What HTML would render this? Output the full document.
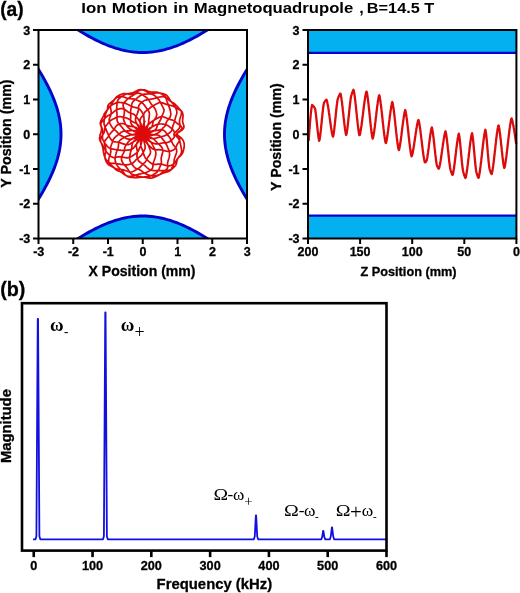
<!DOCTYPE html>
<html><head><meta charset="utf-8"><title>Ion Motion in Magnetoquadrupole</title>
<style>html,body{margin:0;padding:0;background:#fff}svg{display:block}text{fill:#000}</style>
</head><body>
<svg width="520" height="593" viewBox="0 0 520 593">
<rect width="520" height="593" fill="#fff"/>
<clipPath id="c1"><rect x="38.5" y="30.0" width="208.5" height="208.5"/></clipPath>
<g clip-path="url(#c1)">
<path d="M279.12,243.42 L275.21,238.49 L271.48,233.70 L267.91,229.05 L264.52,224.52 L261.29,220.11 L258.22,215.82 L255.31,211.64 L252.55,207.57 L249.93,203.59 L247.46,199.71 L245.13,195.91 L242.94,192.20 L240.88,188.56 L238.96,185.00 L237.16,181.50 L235.49,178.07 L233.94,174.70 L232.52,171.38 L231.22,168.12 L230.04,164.89 L228.97,161.71 L228.02,158.57 L227.19,155.46 L226.47,152.38 L225.86,149.32 L225.36,146.28 L224.98,143.26 L224.70,140.25 L224.54,137.25 L224.48,134.25 L224.54,131.25 L224.70,128.25 L224.98,125.24 L225.36,122.22 L225.86,119.18 L226.47,116.12 L227.19,113.04 L228.02,109.93 L228.97,106.79 L230.04,103.61 L231.22,100.38 L232.52,97.12 L233.94,93.80 L235.49,90.43 L237.16,87.00 L238.96,83.50 L240.88,79.94 L242.94,76.30 L245.13,72.59 L247.46,68.79 L249.93,64.91 L252.55,60.93 L255.31,56.86 L258.22,52.68 L261.29,48.39 L264.52,43.98 L267.91,39.45 L271.48,34.80 L275.21,30.01 L279.12,25.08 L316.50,25.08 L316.50,243.42 Z" fill="#04b0ef"/>
<path d="M279.12,243.42 L275.21,238.49 L271.48,233.70 L267.91,229.05 L264.52,224.52 L261.29,220.11 L258.22,215.82 L255.31,211.64 L252.55,207.57 L249.93,203.59 L247.46,199.71 L245.13,195.91 L242.94,192.20 L240.88,188.56 L238.96,185.00 L237.16,181.50 L235.49,178.07 L233.94,174.70 L232.52,171.38 L231.22,168.12 L230.04,164.89 L228.97,161.71 L228.02,158.57 L227.19,155.46 L226.47,152.38 L225.86,149.32 L225.36,146.28 L224.98,143.26 L224.70,140.25 L224.54,137.25 L224.48,134.25 L224.54,131.25 L224.70,128.25 L224.98,125.24 L225.36,122.22 L225.86,119.18 L226.47,116.12 L227.19,113.04 L228.02,109.93 L228.97,106.79 L230.04,103.61 L231.22,100.38 L232.52,97.12 L233.94,93.80 L235.49,90.43 L237.16,87.00 L238.96,83.50 L240.88,79.94 L242.94,76.30 L245.13,72.59 L247.46,68.79 L249.93,64.91 L252.55,60.93 L255.31,56.86 L258.22,52.68 L261.29,48.39 L264.52,43.98 L267.91,39.45 L271.48,34.80 L275.21,30.01 L279.12,25.08" fill="none" stroke="#0404c8" stroke-width="2.9"/>
<path d="M6.38,243.42 L10.29,238.49 L14.02,233.70 L17.59,229.05 L20.98,224.52 L24.21,220.11 L27.28,215.82 L30.19,211.64 L32.95,207.57 L35.57,203.59 L38.04,199.71 L40.37,195.91 L42.56,192.20 L44.62,188.56 L46.54,185.00 L48.34,181.50 L50.01,178.07 L51.56,174.70 L52.98,171.38 L54.28,168.12 L55.46,164.89 L56.53,161.71 L57.48,158.57 L58.31,155.46 L59.03,152.38 L59.64,149.32 L60.14,146.28 L60.52,143.26 L60.80,140.25 L60.96,137.25 L61.02,134.25 L60.96,131.25 L60.80,128.25 L60.52,125.24 L60.14,122.22 L59.64,119.18 L59.03,116.12 L58.31,113.04 L57.48,109.93 L56.53,106.79 L55.46,103.61 L54.28,100.38 L52.98,97.12 L51.56,93.80 L50.01,90.43 L48.34,87.00 L46.54,83.50 L44.62,79.94 L42.56,76.30 L40.37,72.59 L38.04,68.79 L35.57,64.91 L32.95,60.93 L30.19,56.86 L27.28,52.68 L24.21,48.39 L20.98,43.98 L17.59,39.45 L14.02,34.80 L10.29,30.01 L6.38,25.08 L-31.00,25.08 L-31.00,243.42 Z" fill="#04b0ef"/>
<path d="M6.38,243.42 L10.29,238.49 L14.02,233.70 L17.59,229.05 L20.98,224.52 L24.21,220.11 L27.28,215.82 L30.19,211.64 L32.95,207.57 L35.57,203.59 L38.04,199.71 L40.37,195.91 L42.56,192.20 L44.62,188.56 L46.54,185.00 L48.34,181.50 L50.01,178.07 L51.56,174.70 L52.98,171.38 L54.28,168.12 L55.46,164.89 L56.53,161.71 L57.48,158.57 L58.31,155.46 L59.03,152.38 L59.64,149.32 L60.14,146.28 L60.52,143.26 L60.80,140.25 L60.96,137.25 L61.02,134.25 L60.96,131.25 L60.80,128.25 L60.52,125.24 L60.14,122.22 L59.64,119.18 L59.03,116.12 L58.31,113.04 L57.48,109.93 L56.53,106.79 L55.46,103.61 L54.28,100.38 L52.98,97.12 L51.56,93.80 L50.01,90.43 L48.34,87.00 L46.54,83.50 L44.62,79.94 L42.56,76.30 L40.37,72.59 L38.04,68.79 L35.57,64.91 L32.95,60.93 L30.19,56.86 L27.28,52.68 L24.21,48.39 L20.98,43.98 L17.59,39.45 L14.02,34.80 L10.29,30.01 L6.38,25.08" fill="none" stroke="#0404c8" stroke-width="2.9"/>
<path d="M33.58,-2.12 L38.51,1.79 L43.30,5.52 L47.95,9.09 L52.48,12.48 L56.89,15.71 L61.18,18.78 L65.36,21.69 L69.43,24.45 L73.41,27.07 L77.29,29.54 L81.09,31.87 L84.80,34.06 L88.44,36.12 L92.00,38.04 L95.50,39.84 L98.93,41.51 L102.30,43.06 L105.62,44.48 L108.88,45.78 L112.11,46.96 L115.29,48.03 L118.43,48.98 L121.54,49.81 L124.62,50.53 L127.68,51.14 L130.72,51.64 L133.74,52.02 L136.75,52.30 L139.75,52.46 L142.75,52.52 L145.75,52.46 L148.75,52.30 L151.76,52.02 L154.78,51.64 L157.82,51.14 L160.88,50.53 L163.96,49.81 L167.07,48.98 L170.21,48.03 L173.39,46.96 L176.62,45.78 L179.88,44.48 L183.20,43.06 L186.57,41.51 L190.00,39.84 L193.50,38.04 L197.06,36.12 L200.70,34.06 L204.41,31.87 L208.21,29.54 L212.09,27.07 L216.07,24.45 L220.14,21.69 L224.32,18.78 L228.61,15.71 L233.02,12.48 L237.55,9.09 L242.20,5.52 L246.99,1.79 L251.92,-2.12 L251.92,-39.50 L33.58,-39.50 Z" fill="#04b0ef"/>
<path d="M33.58,-2.12 L38.51,1.79 L43.30,5.52 L47.95,9.09 L52.48,12.48 L56.89,15.71 L61.18,18.78 L65.36,21.69 L69.43,24.45 L73.41,27.07 L77.29,29.54 L81.09,31.87 L84.80,34.06 L88.44,36.12 L92.00,38.04 L95.50,39.84 L98.93,41.51 L102.30,43.06 L105.62,44.48 L108.88,45.78 L112.11,46.96 L115.29,48.03 L118.43,48.98 L121.54,49.81 L124.62,50.53 L127.68,51.14 L130.72,51.64 L133.74,52.02 L136.75,52.30 L139.75,52.46 L142.75,52.52 L145.75,52.46 L148.75,52.30 L151.76,52.02 L154.78,51.64 L157.82,51.14 L160.88,50.53 L163.96,49.81 L167.07,48.98 L170.21,48.03 L173.39,46.96 L176.62,45.78 L179.88,44.48 L183.20,43.06 L186.57,41.51 L190.00,39.84 L193.50,38.04 L197.06,36.12 L200.70,34.06 L204.41,31.87 L208.21,29.54 L212.09,27.07 L216.07,24.45 L220.14,21.69 L224.32,18.78 L228.61,15.71 L233.02,12.48 L237.55,9.09 L242.20,5.52 L246.99,1.79 L251.92,-2.12" fill="none" stroke="#0404c8" stroke-width="2.9"/>
<path d="M33.58,270.62 L38.51,266.71 L43.30,262.98 L47.95,259.41 L52.48,256.02 L56.89,252.79 L61.18,249.72 L65.36,246.81 L69.43,244.05 L73.41,241.43 L77.29,238.96 L81.09,236.63 L84.80,234.44 L88.44,232.38 L92.00,230.46 L95.50,228.66 L98.93,226.99 L102.30,225.44 L105.62,224.02 L108.88,222.72 L112.11,221.54 L115.29,220.47 L118.43,219.52 L121.54,218.69 L124.62,217.97 L127.68,217.36 L130.72,216.86 L133.74,216.48 L136.75,216.20 L139.75,216.04 L142.75,215.98 L145.75,216.04 L148.75,216.20 L151.76,216.48 L154.78,216.86 L157.82,217.36 L160.88,217.97 L163.96,218.69 L167.07,219.52 L170.21,220.47 L173.39,221.54 L176.62,222.72 L179.88,224.02 L183.20,225.44 L186.57,226.99 L190.00,228.66 L193.50,230.46 L197.06,232.38 L200.70,234.44 L204.41,236.63 L208.21,238.96 L212.09,241.43 L216.07,244.05 L220.14,246.81 L224.32,249.72 L228.61,252.79 L233.02,256.02 L237.55,259.41 L242.20,262.98 L246.99,266.71 L251.92,270.62 L251.92,308.00 L33.58,308.00 Z" fill="#04b0ef"/>
<path d="M33.58,270.62 L38.51,266.71 L43.30,262.98 L47.95,259.41 L52.48,256.02 L56.89,252.79 L61.18,249.72 L65.36,246.81 L69.43,244.05 L73.41,241.43 L77.29,238.96 L81.09,236.63 L84.80,234.44 L88.44,232.38 L92.00,230.46 L95.50,228.66 L98.93,226.99 L102.30,225.44 L105.62,224.02 L108.88,222.72 L112.11,221.54 L115.29,220.47 L118.43,219.52 L121.54,218.69 L124.62,217.97 L127.68,217.36 L130.72,216.86 L133.74,216.48 L136.75,216.20 L139.75,216.04 L142.75,215.98 L145.75,216.04 L148.75,216.20 L151.76,216.48 L154.78,216.86 L157.82,217.36 L160.88,217.97 L163.96,218.69 L167.07,219.52 L170.21,220.47 L173.39,221.54 L176.62,222.72 L179.88,224.02 L183.20,225.44 L186.57,226.99 L190.00,228.66 L193.50,230.46 L197.06,232.38 L200.70,234.44 L204.41,236.63 L208.21,238.96 L212.09,241.43 L216.07,244.05 L220.14,246.81 L224.32,249.72 L228.61,252.79 L233.02,256.02 L237.55,259.41 L242.20,262.98 L246.99,266.71 L251.92,270.62" fill="none" stroke="#0404c8" stroke-width="2.9"/>
</g>
<path d="M145.4,120.7 L145.1,121.1 L144.8,121.5 L144.6,121.9 L144.3,122.3 L144.1,122.8 L143.9,123.2 L143.8,123.6 L143.6,124.1 L143.6,124.6 L143.5,125.0 L143.5,125.5 L143.4,125.9 L143.4,126.4 L143.4,126.9 L143.4,127.3 L143.4,127.8 L143.4,128.3 L143.4,128.8 L143.4,129.2 L143.4,129.7 L143.4,130.2 L143.4,130.6 L143.4,131.1 L143.3,131.6 L143.3,132.1 L143.3,132.6 L143.4,133.1 L143.4,133.5 L143.5,134.0 L143.5,134.5 L143.6,134.9 L143.7,135.4 L143.8,135.8 L143.9,136.3 L144.0,136.7 L144.1,137.1 L144.3,137.6 L144.4,138.1 L144.5,138.5 L144.6,139.0 L144.8,139.4 L145.0,139.9 L145.1,140.4 L145.3,140.8 L145.5,141.2 L145.7,141.6 L146.0,142.0 L146.2,142.4 L146.5,142.8 L146.8,143.2 L147.1,143.5 L147.4,143.9 L147.8,144.3 L148.1,144.6 L148.5,145.0 L148.9,145.4 L149.3,145.8 L149.7,146.2 L150.1,146.6 L150.5,147.0 L151.0,147.4 L151.4,147.8 L151.8,148.2 L152.3,148.5 L152.7,148.8 L153.2,149.1 L153.7,149.3 L154.1,149.5 L154.6,149.6 L155.0,149.7 L155.5,149.8 L156.0,149.8 L156.4,149.8 L156.9,149.8 L157.4,149.8 L157.9,149.7 L158.4,149.7 L158.9,149.7 L159.4,149.7 L159.9,149.8 L160.4,149.8 L160.9,149.9 L161.4,149.9 L161.9,150.0 L162.5,150.1 L163.0,150.3 L163.5,150.4 L163.9,150.5 L164.4,150.7 L164.9,150.8 L165.3,150.9 L165.7,151.0 L166.2,151.1 L166.6,151.2 L167.0,151.3 L167.4,151.3 L167.7,151.4 L168.1,151.4 L168.5,151.4 L168.9,151.4 L169.3,151.3 L169.8,151.3 L170.2,151.2 L170.7,151.0 L171.2,150.9 L171.7,150.7 L172.2,150.5 L172.7,150.3 L173.2,150.0 L173.7,149.7 L174.2,149.4 L174.6,149.1 L175.0,148.8 L175.3,148.4 L175.6,148.0 L175.8,147.6 L176.0,147.2 L176.2,146.7 L176.4,146.3 L176.5,145.8 L176.7,145.4 L176.9,144.9 L177.2,144.4 L177.5,143.9 L177.8,143.4 L178.1,142.9 L178.5,142.4 L178.8,141.9 L179.1,141.3 L179.4,140.8 L179.6,140.3 L179.7,139.8 L179.8,139.2 L179.7,138.7 L179.5,138.1 L179.2,137.6 L178.8,137.1 L178.3,136.5 L177.8,136.0 L177.4,135.5 L177.0,135.0 L176.7,134.5 L176.7,134.0 L176.9,133.6 L177.3,133.1 L178.1,132.5 L179.1,132.0 L180.1,131.3 L181.1,130.7 L182.0,130.0 L182.8,129.3 L183.4,128.6 L183.7,127.9 L183.9,127.2 L183.9,126.6 L183.8,126.0 L183.7,125.3 L183.5,124.7 L183.3,124.2 L183.1,123.6 L183.0,123.1 L182.8,122.6 L182.7,122.2 L182.6,121.7 L182.6,121.2 L182.6,120.8 L182.6,120.3 L182.6,119.9 L182.7,119.4 L182.7,119.0 L182.8,118.5 L182.8,118.0 L182.9,117.5 L182.9,117.0 L183.0,116.5 L183.0,115.9 L183.0,115.4 L182.9,114.9 L182.9,114.4 L182.8,113.9 L182.7,113.4 L182.6,113.0 L182.4,112.5 L182.3,112.1 L182.1,111.8 L181.8,111.5 L181.6,111.2 L181.3,110.9 L181.0,110.6 L180.8,110.4 L180.4,110.2 L180.1,110.0 L179.8,109.8 L179.4,109.7 L179.1,109.5 L178.7,109.3 L178.3,109.1 L177.9,108.9 L177.5,108.7 L177.1,108.4 L176.7,108.2 L176.3,108.0 L175.9,107.7 L175.5,107.5 L175.1,107.2 L174.7,107.0 L174.2,106.7 L173.8,106.5 L173.3,106.3 L172.9,106.1 L172.4,106.0 L172.0,105.8 L171.5,105.7 L171.0,105.5 L170.5,105.4 L170.0,105.3 L169.5,105.2 L169.0,105.1 L168.4,104.9 L167.9,104.8 L167.3,104.6 L166.8,104.4 L166.2,104.3 L165.7,104.1 L165.1,103.9 L164.5,103.6 L164.0,103.4 L163.5,103.2 L162.9,103.1 L162.4,102.9 L161.9,102.8 L161.5,102.7 L161.0,102.6 L160.6,102.5 L160.1,102.6 L159.7,102.6 L159.2,102.7 L158.8,102.8 L158.3,103.0 L157.9,103.2 L157.4,103.4 L156.9,103.7 L156.3,104.0 L155.7,104.3 L155.2,104.6 L154.6,104.9 L154.0,105.2 L153.4,105.5 L152.9,105.8 L152.4,106.2 L151.9,106.5 L151.5,106.7 L151.1,107.0 L150.7,107.3 L150.4,107.6 L150.1,107.8 L149.9,108.1 L149.6,108.3 L149.4,108.5 L149.1,108.8 L148.8,109.0 L148.5,109.2 L148.2,109.5 L147.8,109.7 L147.4,110.0 L147.0,110.2 L146.7,110.5 L146.3,110.8 L145.9,111.0 L145.6,111.3 L145.3,111.6 L145.0,111.9 L144.8,112.3 L144.5,112.6 L144.3,112.9 L144.2,113.3 L144.0,113.6 L143.8,114.0 L143.6,114.4 L143.3,114.8 L143.1,115.1 L142.8,115.5 L142.5,115.9 L142.2,116.3 L141.8,116.7 L141.5,117.2 L141.2,117.6 L140.9,118.1 L140.6,118.5 L140.4,119.0 L140.2,119.4 L140.1,119.9 L140.0,120.4 L140.0,120.9 L140.0,121.4 L140.0,121.9 L140.0,122.4 L140.1,123.0 L140.2,123.5 L140.4,124.0 L140.5,124.5 L140.6,125.1 L140.8,125.6 L140.9,126.1 L141.1,126.7 L141.2,127.2 L141.4,127.7 L141.5,128.2 L141.6,128.6 L141.7,129.1 L141.9,129.6 L142.0,130.0 L142.1,130.5 L142.3,130.9 L142.4,131.4 L142.5,131.8 L142.7,132.3 L142.9,132.7 L143.0,133.2 L143.2,133.6 L143.5,134.0 L143.7,134.4 L144.0,134.8 L144.2,135.2 L144.5,135.5 L144.7,135.9 L145.0,136.3 L145.3,136.7 L145.5,137.1 L145.8,137.5 L146.1,137.9 L146.4,138.3 L146.7,138.6 L147.0,139.0 L147.3,139.4 L147.6,139.7 L148.0,140.0 L148.3,140.4 L148.6,140.7 L149.0,140.9 L149.4,141.2 L149.8,141.4 L150.2,141.7 L150.6,141.9 L151.0,142.1 L151.4,142.3 L151.8,142.5 L152.3,142.7 L152.7,142.9 L153.2,143.1 L153.6,143.3 L154.1,143.5 L154.6,143.6 L155.0,143.8 L155.5,143.9 L156.0,143.9 L156.4,144.0 L156.9,144.0 L157.3,144.0 L157.7,144.0 L158.1,143.9 L158.6,143.9 L159.0,143.8 L159.4,143.7 L159.8,143.6 L160.2,143.5 L160.6,143.4 L161.0,143.3 L161.4,143.2 L161.8,143.1 L162.3,143.0 L162.8,143.0 L163.2,142.9 L163.7,142.9 L164.2,142.8 L164.8,142.8 L165.3,142.7 L165.8,142.7 L166.3,142.6 L166.8,142.6 L167.3,142.5 L167.7,142.4 L168.1,142.3 L168.5,142.2 L168.8,142.0 L169.1,141.9 L169.5,141.7 L169.8,141.5 L170.1,141.2 L170.4,141.0 L170.7,140.7 L171.1,140.4 L171.5,140.0 L172.0,139.7 L172.4,139.3 L172.9,138.8 L173.4,138.4 L173.7,137.9 L174.0,137.5 L174.2,137.0 L174.3,136.4 L174.2,135.9 L174.1,135.4 L174.0,134.9 L174.0,134.4 L174.0,133.9 L174.2,133.4 L174.6,132.9 L175.1,132.4 L175.7,131.9 L176.3,131.3 L177.0,130.7 L177.6,130.2 L178.2,129.6 L178.6,129.0 L179.1,128.5 L179.4,127.9 L179.6,127.4 L179.8,126.9 L179.9,126.3 L180.0,125.8 L180.0,125.3 L180.0,124.8 L179.9,124.3 L179.8,123.8 L179.7,123.3 L179.6,122.8 L179.6,122.3 L179.5,121.8 L179.5,121.3 L179.6,120.8 L179.6,120.2 L179.7,119.7 L179.8,119.1 L180.0,118.5 L180.2,118.0 L180.4,117.4 L180.6,116.8 L180.7,116.3 L180.9,115.7 L181.1,115.2 L181.2,114.6 L181.3,114.1 L181.4,113.6 L181.4,113.1 L181.5,112.6 L181.4,112.2 L181.4,111.8 L181.3,111.4 L181.1,111.0 L181.0,110.7 L180.8,110.4 L180.5,110.0 L180.3,109.7 L180.0,109.4 L179.7,109.1 L179.4,108.8 L179.1,108.5 L178.8,108.1 L178.5,107.8 L178.2,107.5 L177.8,107.1 L177.5,106.8 L177.1,106.4 L176.8,106.0 L176.5,105.7 L176.1,105.3 L175.8,104.9 L175.5,104.6 L175.1,104.3 L174.8,104.0 L174.5,103.7 L174.1,103.4 L173.8,103.2 L173.5,103.0 L173.2,102.8 L172.8,102.7 L172.5,102.5 L172.2,102.3 L171.8,102.2 L171.5,102.0 L171.2,101.8 L170.8,101.6 L170.5,101.4 L170.1,101.1 L169.8,100.8 L169.4,100.5 L169.0,100.2 L168.6,99.8 L168.2,99.4 L167.8,99.0 L167.4,98.7 L167.0,98.3 L166.5,97.9 L166.0,97.6 L165.5,97.4 L165.0,97.1 L164.5,96.9 L163.9,96.8 L163.3,96.7 L162.7,96.7 L162.1,96.7 L161.5,96.7 L160.9,96.8 L160.3,96.9 L159.6,97.0 L159.0,97.1 L158.4,97.3 L157.8,97.4 L157.3,97.6 L156.7,97.7 L156.2,97.9 L155.7,98.1 L155.2,98.2 L154.8,98.4 L154.3,98.5 L153.8,98.6 L153.3,98.8 L152.7,98.9 L152.1,99.0 L151.5,99.1 L150.9,99.2 L150.3,99.3 L149.6,99.4 L148.9,99.5 L148.2,99.6 L147.6,99.7 L147.0,99.8 L146.4,99.9 L145.9,100.1 L145.4,100.2 L144.9,100.4 L144.5,100.5 L144.1,100.7 L143.8,100.9 L143.5,101.1 L143.1,101.4 L142.8,101.6 L142.4,101.9 L142.0,102.2 L141.6,102.5 L141.2,102.8 L140.8,103.2 L140.4,103.5 L140.0,103.9 L139.7,104.3 L139.4,104.7 L139.1,105.1 L138.9,105.5 L138.8,105.9 L138.6,106.3 L138.6,106.8 L138.5,107.2 L138.5,107.7 L138.5,108.1 L138.5,108.6 L138.5,109.1 L138.5,109.6 L138.4,110.1 L138.3,110.6 L138.2,111.1 L138.1,111.6 L137.9,112.1 L137.7,112.6 L137.5,113.2 L137.3,113.7 L137.0,114.2 L136.8,114.8 L136.6,115.3 L136.3,115.8 L136.1,116.4 L136.0,116.9 L135.8,117.4 L135.7,117.9 L135.6,118.4 L135.5,118.9 L135.5,119.4 L135.5,119.8 L135.6,120.2 L135.6,120.7 L135.7,121.1 L135.9,121.5 L136.0,121.9 L136.1,122.2 L136.3,122.6 L136.5,123.0 L136.7,123.4 L136.9,123.9 L137.1,124.3 L137.4,124.7 L137.6,125.2 L137.8,125.6 L138.1,126.1 L138.3,126.6 L138.6,127.0 L138.8,127.5 L139.0,127.9 L139.3,128.4 L139.5,128.8 L139.8,129.3 L140.0,129.7 L140.3,130.1 L140.5,130.5 L140.8,130.8 L141.1,131.2 L141.3,131.6 L141.6,131.9 L141.9,132.3 L142.2,132.6 L142.5,133.0 L142.8,133.3 L143.2,133.6 L143.5,133.9 L143.9,134.2 L144.3,134.5 L144.7,134.7 L145.1,135.0 L145.5,135.3 L145.9,135.5 L146.3,135.8 L146.7,136.1 L147.1,136.4 L147.5,136.6 L147.9,136.9 L148.3,137.1 L148.7,137.4 L149.2,137.6 L149.6,137.8 L150.0,138.0 L150.4,138.2 L150.8,138.3 L151.2,138.4 L151.7,138.5 L152.1,138.5 L152.5,138.6 L152.9,138.6 L153.3,138.6 L153.7,138.5 L154.1,138.5 L154.5,138.4 L154.9,138.4 L155.3,138.3 L155.7,138.2 L156.1,138.1 L156.5,137.9 L157.0,137.8 L157.5,137.7 L158.0,137.5 L158.5,137.4 L159.0,137.2 L159.6,137.1 L160.2,137.0 L160.7,136.9 L161.3,136.7 L161.9,136.6 L162.4,136.5 L162.9,136.3 L163.3,136.2 L163.8,136.0 L164.2,135.9 L164.6,135.7 L164.9,135.6 L165.2,135.4 L165.6,135.2 L165.9,135.1 L166.2,134.9 L166.6,134.7 L166.9,134.5 L167.3,134.2 L167.7,134.0 L168.1,133.8 L168.5,133.5 L168.9,133.2 L169.4,132.9 L169.8,132.6 L170.2,132.3 L170.6,131.9 L171.0,131.6 L171.3,131.2 L171.6,130.8 L171.8,130.3 L172.0,129.9 L172.1,129.4 L172.2,129.0 L172.3,128.5 L172.4,128.0 L172.5,127.5 L172.6,127.0 L172.7,126.5 L172.9,125.9 L173.1,125.4 L173.3,124.9 L173.5,124.3 L173.7,123.8 L173.9,123.2 L174.1,122.6 L174.3,122.1 L174.5,121.5 L174.7,121.0 L174.8,120.4 L174.9,119.9 L175.1,119.4 L175.2,118.8 L175.3,118.3 L175.4,117.8 L175.6,117.3 L175.7,116.8 L175.9,116.4 L176.0,115.9 L176.1,115.5 L176.3,115.0 L176.4,114.6 L176.6,114.2 L176.7,113.8 L176.8,113.4 L176.8,113.0 L176.9,112.5 L176.9,112.1 L176.8,111.7 L176.8,111.3 L176.7,110.8 L176.6,110.3 L176.4,109.9 L176.3,109.4 L176.1,108.9 L175.9,108.4 L175.6,108.0 L175.4,107.5 L175.1,107.0 L174.8,106.5 L174.6,106.1 L174.3,105.6 L174.0,105.2 L173.8,104.8 L173.5,104.4 L173.2,104.1 L173.0,103.7 L172.7,103.4 L172.5,103.1 L172.2,102.8 L172.0,102.6 L171.7,102.3 L171.5,102.0 L171.2,101.7 L171.0,101.4 L170.7,101.1 L170.5,100.7 L170.2,100.3 L170.0,99.9 L169.7,99.4 L169.4,99.0 L169.1,98.5 L168.8,98.0 L168.5,97.5 L168.2,97.0 L167.8,96.6 L167.5,96.2 L167.1,95.8 L166.7,95.4 L166.3,95.1 L165.9,94.8 L165.5,94.6 L165.0,94.4 L164.6,94.2 L164.1,94.0 L163.6,93.9 L163.1,93.7 L162.6,93.6 L162.0,93.5 L161.4,93.4 L160.8,93.3 L160.2,93.1 L159.6,93.1 L158.9,93.0 L158.2,92.9 L157.6,92.9 L156.9,92.9 L156.2,92.9 L155.6,93.0 L154.9,93.1 L154.3,93.2 L153.7,93.3 L153.1,93.4 L152.6,93.5 L152.1,93.6 L151.6,93.7 L151.1,93.8 L150.6,93.9 L150.1,93.9 L149.6,94.0 L149.1,94.0 L148.5,94.0 L148.0,94.0 L147.4,94.0 L146.7,94.1 L146.1,94.1 L145.4,94.1 L144.8,94.2 L144.1,94.2 L143.5,94.3 L142.9,94.4 L142.3,94.6 L141.8,94.7 L141.3,94.9 L140.9,95.2 L140.5,95.4 L140.1,95.7 L139.7,96.0 L139.3,96.3 L138.9,96.7 L138.4,97.0 L137.9,97.4 L137.4,97.8 L136.9,98.2 L136.4,98.6 L135.8,99.0 L135.3,99.4 L134.8,99.9 L134.3,100.3 L133.8,100.8 L133.4,101.2 L133.0,101.6 L132.7,102.1 L132.4,102.6 L132.2,103.0 L132.0,103.5 L131.9,103.9 L131.8,104.4 L131.7,104.9 L131.6,105.3 L131.5,105.8 L131.4,106.3 L131.4,106.7 L131.3,107.2 L131.2,107.7 L131.1,108.1 L131.0,108.6 L130.9,109.1 L130.8,109.5 L130.8,110.0 L130.7,110.4 L130.6,110.9 L130.6,111.3 L130.6,111.7 L130.6,112.2 L130.6,112.6 L130.6,113.0 L130.6,113.4 L130.6,113.8 L130.7,114.2 L130.7,114.7 L130.7,115.1 L130.7,115.5 L130.7,115.9 L130.7,116.4 L130.7,116.8 L130.7,117.3 L130.7,117.8 L130.6,118.3 L130.6,118.8 L130.6,119.3 L130.6,119.8 L130.6,120.4 L130.6,120.9 L130.7,121.5 L130.7,122.0 L130.8,122.5 L131.0,123.0 L131.1,123.4 L131.3,123.8 L131.5,124.2 L131.8,124.6 L132.0,124.9 L132.3,125.2 L132.6,125.5 L132.9,125.8 L133.3,126.1 L133.6,126.4 L133.9,126.7 L134.3,127.0 L134.6,127.3 L135.0,127.7 L135.3,128.0 L135.7,128.3 L136.0,128.7 L136.4,129.0 L136.7,129.3 L137.1,129.7 L137.4,130.0 L137.8,130.3 L138.1,130.6 L138.5,130.9 L138.9,131.2 L139.2,131.4 L139.6,131.7 L140.0,131.9 L140.4,132.2 L140.7,132.4 L141.1,132.6 L141.5,132.8 L141.9,133.0 L142.3,133.2 L142.8,133.4 L143.2,133.6 L143.6,133.7 L144.1,133.9 L144.6,134.0 L145.0,134.1 L145.5,134.2 L146.0,134.3 L146.4,134.4 L146.9,134.5 L147.4,134.7 L147.8,134.8 L148.3,134.9 L148.8,135.0 L149.2,135.0 L149.7,135.1 L150.1,135.2 L150.6,135.2 L151.0,135.3 L151.4,135.3 L151.9,135.2 L152.3,135.2 L152.8,135.1 L153.2,135.0 L153.7,134.9 L154.2,134.7 L154.7,134.5 L155.2,134.3 L155.7,134.1 L156.3,133.8 L156.8,133.6 L157.4,133.3 L157.9,133.0 L158.4,132.7 L158.9,132.3 L159.4,132.0 L159.8,131.6 L160.2,131.3 L160.6,130.9 L160.9,130.6 L161.2,130.2 L161.4,129.9 L161.7,129.5 L161.9,129.2 L162.2,128.9 L162.5,128.6 L162.8,128.2 L163.1,127.9 L163.4,127.6 L163.7,127.3 L164.0,126.9 L164.4,126.6 L164.7,126.3 L165.0,126.0 L165.2,125.6 L165.4,125.3 L165.6,125.0 L165.7,124.7 L165.8,124.3 L165.9,124.0 L166.0,123.6 L166.0,123.3 L166.1,122.9 L166.2,122.6 L166.4,122.2 L166.5,121.8 L166.8,121.4 L167.0,121.1 L167.3,120.7 L167.6,120.3 L168.0,119.9 L168.3,119.5 L168.7,119.0 L169.0,118.6 L169.4,118.2 L169.7,117.7 L170.0,117.3 L170.2,116.8 L170.4,116.3 L170.6,115.8 L170.7,115.3 L170.7,114.8 L170.8,114.3 L170.8,113.8 L170.8,113.2 L170.7,112.7 L170.6,112.2 L170.5,111.6 L170.4,111.1 L170.3,110.6 L170.2,110.1 L170.0,109.6 L169.9,109.1 L169.7,108.6 L169.6,108.1 L169.4,107.7 L169.2,107.3 L169.1,106.8 L168.9,106.4 L168.7,106.0 L168.6,105.6 L168.4,105.2 L168.2,104.8 L168.1,104.4 L167.9,104.0 L167.8,103.6 L167.6,103.1 L167.4,102.6 L167.3,102.1 L167.1,101.6 L166.9,101.0 L166.7,100.5 L166.6,99.9 L166.4,99.3 L166.2,98.8 L166.0,98.2 L165.7,97.7 L165.5,97.3 L165.2,96.8 L165.0,96.4 L164.7,96.0 L164.4,95.7 L164.0,95.4 L163.7,95.2 L163.3,94.9 L162.9,94.7 L162.5,94.4 L162.1,94.2 L161.6,94.0 L161.1,93.7 L160.6,93.5 L160.1,93.2 L159.5,93.0 L159.0,92.8 L158.4,92.5 L157.8,92.4 L157.2,92.2 L156.5,92.1 L155.9,92.0 L155.3,92.0 L154.6,92.0 L154.0,92.0 L153.3,92.0 L152.7,92.0 L152.1,92.0 L151.5,92.0 L150.9,92.0 L150.3,91.9 L149.7,91.8 L149.2,91.7 L148.7,91.5 L148.1,91.3 L147.6,91.1 L147.1,90.9 L146.6,90.6 L146.0,90.4 L145.5,90.2 L144.9,90.1 L144.3,89.9 L143.6,89.9 L143.0,89.8 L142.3,89.8 L141.7,89.9 L141.0,90.0 L140.4,90.1 L139.8,90.3 L139.2,90.5 L138.7,90.8 L138.2,91.1 L137.8,91.4 L137.3,91.7 L137.0,92.1 L136.6,92.4 L136.2,92.8 L135.8,93.2 L135.5,93.5 L135.0,93.9 L134.6,94.2 L134.2,94.6 L133.7,94.9 L133.1,95.3 L132.6,95.6 L132.1,95.9 L131.5,96.2 L131.0,96.5 L130.5,96.8 L130.0,97.1 L129.6,97.4 L129.2,97.7 L128.8,97.9 L128.4,98.2 L128.1,98.5 L127.8,98.8 L127.5,99.1 L127.3,99.4 L127.0,99.7 L126.7,99.9 L126.4,100.2 L126.1,100.5 L125.8,100.8 L125.5,101.2 L125.1,101.5 L124.8,101.8 L124.5,102.1 L124.2,102.4 L123.9,102.8 L123.7,103.1 L123.5,103.5 L123.3,103.8 L123.2,104.2 L123.1,104.6 L123.1,104.9 L123.1,105.3 L123.1,105.7 L123.2,106.1 L123.3,106.6 L123.5,107.0 L123.6,107.5 L123.8,107.9 L123.9,108.4 L124.0,108.9 L124.2,109.4 L124.2,109.9 L124.3,110.5 L124.4,111.0 L124.4,111.6 L124.4,112.1 L124.3,112.7 L124.3,113.3 L124.2,113.8 L124.1,114.4 L124.0,114.9 L123.9,115.4 L123.8,115.9 L123.7,116.4 L123.6,116.9 L123.6,117.4 L123.5,117.8 L123.5,118.2 L123.5,118.7 L123.6,119.1 L123.6,119.5 L123.7,120.0 L123.9,120.4 L124.0,120.9 L124.2,121.4 L124.5,121.9 L124.7,122.4 L125.0,123.0 L125.3,123.6 L125.6,124.1 L126.0,124.7 L126.4,125.3 L126.7,125.8 L127.1,126.3 L127.6,126.8 L128.0,127.3 L128.4,127.7 L128.8,128.0 L129.2,128.4 L129.6,128.7 L130.0,128.9 L130.4,129.2 L130.8,129.4 L131.2,129.6 L131.6,129.9 L132.0,130.1 L132.3,130.3 L132.7,130.5 L133.1,130.7 L133.5,131.0 L133.8,131.2 L134.2,131.4 L134.6,131.6 L135.0,131.8 L135.4,132.0 L135.8,132.1 L136.2,132.3 L136.6,132.4 L137.0,132.6 L137.4,132.7 L137.8,132.8 L138.3,132.9 L138.7,133.0 L139.1,133.1 L139.6,133.1 L140.0,133.2 L140.5,133.3 L140.9,133.3 L141.4,133.4 L141.8,133.4 L142.3,133.5 L142.7,133.5 L143.2,133.5 L143.7,133.5 L144.2,133.4 L144.7,133.4 L145.1,133.3 L145.6,133.2 L146.1,133.2 L146.6,133.1 L147.1,133.0 L147.5,133.0 L148.0,132.9 L148.4,132.8 L148.8,132.7 L149.3,132.6 L149.7,132.5 L150.1,132.4 L150.5,132.3 L151.0,132.1 L151.4,131.9 L151.8,131.8 L152.3,131.6 L152.8,131.4 L153.2,131.1 L153.7,130.9 L154.1,130.6 L154.6,130.3 L155.0,130.0 L155.3,129.7 L155.7,129.3 L156.0,129.0 L156.2,128.6 L156.5,128.2 L156.6,127.8 L156.8,127.4 L156.9,126.9 L157.1,126.5 L157.2,126.1 L157.3,125.6 L157.5,125.1 L157.7,124.7 L158.0,124.2 L158.2,123.7 L158.5,123.3 L158.8,122.8 L159.1,122.3 L159.4,121.8 L159.7,121.3 L160.0,120.8 L160.2,120.3 L160.5,119.9 L160.7,119.4 L160.9,118.9 L161.1,118.4 L161.3,117.9 L161.4,117.4 L161.6,116.9 L161.8,116.4 L162.0,115.9 L162.2,115.5 L162.4,115.0 L162.6,114.5 L162.8,114.0 L163.0,113.6 L163.2,113.1 L163.4,112.7 L163.6,112.3 L163.7,111.9 L163.8,111.4 L163.9,111.0 L164.0,110.6 L164.0,110.2 L163.9,109.8 L163.8,109.3 L163.7,108.9 L163.5,108.5 L163.3,108.0 L163.1,107.6 L162.9,107.1 L162.6,106.6 L162.3,106.1 L162.0,105.5 L161.7,105.0 L161.5,104.4 L161.2,103.9 L160.9,103.4 L160.6,102.8 L160.4,102.3 L160.1,101.8 L159.9,101.4 L159.6,100.9 L159.4,100.5 L159.2,100.2 L158.9,99.9 L158.7,99.6 L158.5,99.3 L158.3,99.1 L158.0,98.8 L157.8,98.6 L157.5,98.4 L157.3,98.1 L157.0,97.8 L156.7,97.5 L156.4,97.2 L156.0,96.9 L155.7,96.6 L155.3,96.2 L155.0,95.9 L154.6,95.6 L154.2,95.3 L153.8,95.0 L153.3,94.8 L152.9,94.6 L152.4,94.4 L151.9,94.2 L151.5,94.0 L151.0,93.9 L150.5,93.7 L150.0,93.5 L149.5,93.3 L148.9,93.0 L148.4,92.7 L147.9,92.4 L147.3,92.1 L146.7,91.7 L146.1,91.4 L145.5,91.0 L144.9,90.7 L144.3,90.4 L143.6,90.2 L142.9,90.0 L142.3,89.8 L141.6,89.7 L140.9,89.7 L140.3,89.7 L139.6,89.8 L139.0,89.9 L138.4,90.1 L137.8,90.3 L137.3,90.5 L136.7,90.8 L136.2,91.0 L135.8,91.3 L135.3,91.5 L134.9,91.8 L134.5,92.0 L134.1,92.2 L133.6,92.4 L133.2,92.6 L132.7,92.8 L132.2,92.9 L131.7,93.0 L131.2,93.1 L130.7,93.3 L130.1,93.3 L129.6,93.4 L129.1,93.5 L128.5,93.6 L128.0,93.7 L127.5,93.7 L127.1,93.8 L126.7,93.9 L126.3,94.0 L125.9,94.1 L125.6,94.2 L125.3,94.3 L125.0,94.5 L124.7,94.7 L124.4,94.8 L124.1,95.0 L123.8,95.2 L123.4,95.4 L123.0,95.7 L122.6,95.9 L122.2,96.2 L121.8,96.5 L121.3,96.8 L120.9,97.1 L120.4,97.5 L120.0,97.8 L119.5,98.2 L119.1,98.5 L118.8,98.9 L118.4,99.3 L118.1,99.7 L117.9,100.2 L117.7,100.6 L117.5,101.1 L117.4,101.5 L117.3,102.0 L117.2,102.5 L117.1,103.0 L117.1,103.4 L117.0,103.9 L117.0,104.4 L116.9,104.9 L116.9,105.4 L116.8,105.9 L116.8,106.4 L116.8,106.9 L116.7,107.4 L116.7,107.9 L116.7,108.4 L116.6,108.9 L116.6,109.3 L116.6,109.8 L116.7,110.3 L116.7,110.7 L116.7,111.2 L116.8,111.6 L116.8,112.0 L116.9,112.5 L116.9,113.0 L117.0,113.4 L117.0,113.9 L117.0,114.4 L117.0,115.0 L117.0,115.5 L117.0,116.0 L117.0,116.6 L117.0,117.2 L117.0,117.8 L117.0,118.3 L117.0,118.9 L117.1,119.5 L117.1,120.0 L117.2,120.5 L117.3,121.0 L117.4,121.5 L117.6,121.9 L117.7,122.3 L118.0,122.7 L118.2,123.0 L118.5,123.4 L118.8,123.7 L119.1,124.1 L119.4,124.4 L119.8,124.8 L120.1,125.2 L120.5,125.6 L120.9,126.0 L121.3,126.5 L121.7,127.0 L122.1,127.5 L122.5,128.0 L122.9,128.5 L123.3,129.0 L123.7,129.5 L124.1,130.0 L124.6,130.4 L125.0,130.8 L125.4,131.2 L125.8,131.5 L126.2,131.8 L126.6,132.1 L127.0,132.4 L127.4,132.6 L127.8,132.8 L128.2,133.1 L128.6,133.3 L129.0,133.5 L129.4,133.7 L129.8,133.9 L130.2,134.1 L130.7,134.2 L131.1,134.4 L131.5,134.5 L131.9,134.7 L132.4,134.8 L132.8,134.9 L133.2,135.0 L133.6,135.0 L134.1,135.0 L134.5,135.0 L134.9,135.0 L135.3,135.0 L135.7,135.0 L136.1,134.9 L136.6,134.8 L137.0,134.8 L137.4,134.7 L137.8,134.6 L138.3,134.5 L138.7,134.5 L139.2,134.4 L139.6,134.3 L140.1,134.2 L140.5,134.1 L141.0,134.0 L141.4,133.9 L141.9,133.8 L142.3,133.6 L142.7,133.5 L143.2,133.3 L143.6,133.1 L144.1,132.9 L144.5,132.7 L145.0,132.4 L145.4,132.2 L145.8,132.0 L146.2,131.8 L146.6,131.5 L147.0,131.3 L147.4,131.0 L147.7,130.8 L148.1,130.5 L148.4,130.2 L148.7,130.0 L149.1,129.7 L149.4,129.4 L149.7,129.1 L150.1,128.8 L150.4,128.4 L150.7,128.1 L151.1,127.8 L151.3,127.4 L151.6,127.1 L151.9,126.7 L152.1,126.3 L152.2,125.9 L152.4,125.5 L152.5,125.1 L152.6,124.7 L152.6,124.3 L152.7,123.8 L152.8,123.4 L152.8,123.0 L152.9,122.5 L153.1,122.1 L153.2,121.6 L153.4,121.2 L153.7,120.8 L154.0,120.3 L154.3,119.9 L154.6,119.4 L154.9,119.0 L155.2,118.5 L155.5,118.1 L155.8,117.6 L156.0,117.2 L156.2,116.7 L156.4,116.2 L156.5,115.8 L156.6,115.3 L156.7,114.8 L156.7,114.3 L156.6,113.8 L156.6,113.2 L156.5,112.7 L156.3,112.2 L156.2,111.6 L156.0,111.1 L155.8,110.5 L155.6,110.0 L155.3,109.5 L155.1,109.0 L154.8,108.5 L154.6,108.1 L154.3,107.7 L154.0,107.3 L153.7,106.9 L153.4,106.6 L153.1,106.2 L152.8,105.9 L152.5,105.6 L152.3,105.3 L152.0,105.0 L151.7,104.6 L151.4,104.3 L151.1,103.9 L150.8,103.5 L150.6,103.0 L150.3,102.6 L150.0,102.1 L149.7,101.6 L149.4,101.1 L149.1,100.5 L148.8,100.1 L148.5,99.6 L148.1,99.1 L147.8,98.7 L147.4,98.3 L147.1,98.0 L146.7,97.7 L146.3,97.4 L145.8,97.1 L145.4,96.8 L145.0,96.5 L144.5,96.2 L144.1,95.9 L143.6,95.6 L143.1,95.2 L142.6,94.9 L142.2,94.6 L141.7,94.3 L141.2,94.0 L140.7,93.8 L140.2,93.5 L139.7,93.4 L139.3,93.3 L138.8,93.2 L138.3,93.2 L137.8,93.2 L137.4,93.2 L136.9,93.3 L136.4,93.5 L135.9,93.6 L135.4,93.8 L134.9,93.9 L134.4,94.0 L133.9,94.2 L133.3,94.3 L132.8,94.3 L132.2,94.4 L131.6,94.4 L131.0,94.4 L130.4,94.4 L129.8,94.3 L129.2,94.3 L128.7,94.2 L128.1,94.1 L127.6,94.0 L127.1,93.9 L126.6,93.8 L126.2,93.7 L125.7,93.7 L125.3,93.6 L125.0,93.6 L124.6,93.5 L124.2,93.5 L123.9,93.6 L123.5,93.6 L123.1,93.7 L122.8,93.8 L122.4,93.9 L121.9,94.0 L121.5,94.2 L121.0,94.4 L120.6,94.6 L120.1,94.8 L119.6,95.0 L119.1,95.3 L118.6,95.6 L118.1,95.9 L117.6,96.2 L117.2,96.5 L116.7,96.8 L116.3,97.2 L116.0,97.5 L115.6,97.9 L115.3,98.3 L115.0,98.7 L114.7,99.1 L114.5,99.5 L114.2,99.9 L114.0,100.3 L113.7,100.7 L113.4,101.1 L113.1,101.5 L112.8,102.0 L112.5,102.4 L112.2,102.8 L111.9,103.3 L111.6,103.7 L111.4,104.2 L111.1,104.7 L110.9,105.2 L110.7,105.7 L110.6,106.2 L110.5,106.7 L110.5,107.2 L110.5,107.7 L110.6,108.3 L110.7,108.8 L110.8,109.4 L110.9,110.0 L111.0,110.6 L111.1,111.2 L111.2,111.8 L111.2,112.3 L111.2,112.9 L111.1,113.5 L111.0,114.1 L110.9,114.7 L110.7,115.2 L110.6,115.8 L110.3,116.3 L110.1,116.8 L109.9,117.3 L109.7,117.8 L109.6,118.3 L109.4,118.8 L109.3,119.3 L109.2,119.7 L109.2,120.2 L109.2,120.7 L109.3,121.3 L109.4,121.8 L109.6,122.4 L109.8,123.0 L110.0,123.6 L110.3,124.2 L110.6,124.8 L110.9,125.4 L111.2,126.0 L111.6,126.5 L112.0,127.1 L112.3,127.6 L112.7,128.0 L113.1,128.5 L113.5,128.8 L113.9,129.2 L114.2,129.5 L114.6,129.8 L114.9,130.1 L115.3,130.3 L115.6,130.6 L116.0,130.9 L116.3,131.2 L116.6,131.5 L116.9,131.8 L117.2,132.1 L117.5,132.5 L117.8,132.8 L118.1,133.2 L118.4,133.5 L118.7,133.9 L119.1,134.2 L119.4,134.5 L119.7,134.8 L120.0,135.0 L120.4,135.2 L120.7,135.5 L121.1,135.6 L121.4,135.8 L121.8,136.0 L122.1,136.1 L122.5,136.3 L122.8,136.5 L123.2,136.6 L123.6,136.8 L123.9,137.0 L124.3,137.2 L124.7,137.5 L125.0,137.7 L125.4,137.9 L125.8,138.2 L126.2,138.4 L126.6,138.6 L127.0,138.8 L127.5,138.9 L127.9,139.1 L128.4,139.2 L128.8,139.2 L129.3,139.3 L129.8,139.2 L130.3,139.2 L130.9,139.2 L131.4,139.1 L131.9,138.9 L132.5,138.8 L133.0,138.6 L133.5,138.5 L134.0,138.3 L134.5,138.1 L135.0,137.9 L135.5,137.7 L135.9,137.5 L136.3,137.2 L136.8,137.0 L137.2,136.8 L137.6,136.6 L138.0,136.4 L138.4,136.1 L138.8,135.9 L139.2,135.7 L139.6,135.5 L140.0,135.2 L140.4,135.0 L140.8,134.8 L141.2,134.5 L141.6,134.2 L141.9,134.0 L142.3,133.7 L142.7,133.4 L143.0,133.0 L143.4,132.7 L143.8,132.3 L144.1,132.0 L144.5,131.6 L144.8,131.3 L145.1,130.9 L145.4,130.6 L145.7,130.2 L145.9,129.8 L146.1,129.4 L146.3,129.1 L146.5,128.7 L146.7,128.3 L146.9,127.9 L147.1,127.6 L147.2,127.2 L147.4,126.8 L147.6,126.4 L147.7,126.0 L147.9,125.6 L148.0,125.3 L148.1,124.9 L148.3,124.5 L148.4,124.1 L148.4,123.7 L148.5,123.3 L148.6,122.8 L148.6,122.4 L148.6,122.0 L148.7,121.5 L148.7,121.1 L148.7,120.6 L148.7,120.1 L148.8,119.6 L148.8,119.1 L148.9,118.5 L149.0,118.0 L149.1,117.4 L149.2,116.9 L149.2,116.3 L149.3,115.8 L149.3,115.3 L149.4,114.8 L149.4,114.3 L149.4,113.8 L149.3,113.3 L149.3,112.9 L149.2,112.4 L149.0,112.0 L148.8,111.6 L148.6,111.2 L148.4,110.8 L148.1,110.4 L147.8,110.0 L147.5,109.5 L147.2,109.1 L146.8,108.6 L146.5,108.1 L146.1,107.5 L145.7,107.0 L145.3,106.4 L144.9,105.9 L144.5,105.3 L144.1,104.8 L143.6,104.3 L143.2,103.8 L142.8,103.3 L142.4,102.9 L142.0,102.6 L141.6,102.3 L141.2,102.0 L140.7,101.7 L140.3,101.5 L139.9,101.4 L139.5,101.2 L139.1,101.0 L138.6,100.9 L138.2,100.7 L137.8,100.5 L137.3,100.3 L136.9,100.2 L136.4,100.0 L135.9,99.8 L135.4,99.6 L135.0,99.4 L134.5,99.3 L134.0,99.1 L133.5,99.0 L133.0,98.9 L132.5,98.9 L132.0,98.8 L131.5,98.8 L131.1,98.7 L130.6,98.7 L130.1,98.7 L129.7,98.6 L129.2,98.6 L128.8,98.5 L128.4,98.5 L127.9,98.4 L127.5,98.3 L127.1,98.2 L126.7,98.0 L126.3,97.9 L125.9,97.7 L125.5,97.6 L125.1,97.4 L124.6,97.2 L124.2,97.1 L123.7,97.0 L123.2,96.8 L122.7,96.7 L122.2,96.7 L121.7,96.6 L121.2,96.6 L120.6,96.6 L120.1,96.7 L119.5,96.7 L119.0,96.8 L118.5,97.0 L118.0,97.1 L117.5,97.3 L117.0,97.5 L116.6,97.7 L116.2,98.0 L115.8,98.2 L115.4,98.5 L115.1,98.8 L114.7,99.1 L114.4,99.4 L114.0,99.7 L113.7,100.1 L113.4,100.4 L113.0,100.7 L112.6,101.1 L112.2,101.4 L111.8,101.8 L111.4,102.1 L110.9,102.5 L110.5,102.8 L110.0,103.2 L109.6,103.5 L109.2,103.9 L108.9,104.2 L108.6,104.6 L108.3,105.0 L108.1,105.3 L107.9,105.7 L107.8,106.1 L107.7,106.5 L107.7,106.9 L107.7,107.3 L107.6,107.7 L107.6,108.1 L107.6,108.5 L107.5,109.0 L107.4,109.4 L107.3,109.9 L107.1,110.4 L106.9,110.9 L106.7,111.4 L106.5,111.9 L106.2,112.5 L106.0,113.0 L105.8,113.6 L105.6,114.2 L105.4,114.8 L105.2,115.4 L105.1,116.1 L104.9,116.7 L104.8,117.3 L104.7,118.0 L104.5,118.6 L104.4,119.2 L104.3,119.8 L104.2,120.4 L104.1,120.9 L104.1,121.5 L104.0,122.0 L104.0,122.5 L104.0,123.1 L104.0,123.6 L104.1,124.1 L104.2,124.6 L104.4,125.2 L104.6,125.8 L104.8,126.4 L105.0,127.0 L105.3,127.7 L105.6,128.3 L105.9,129.0 L106.2,129.7 L106.5,130.4 L106.7,131.1 L107.0,131.7 L107.3,132.3 L107.5,132.9 L107.8,133.5 L108.0,134.0 L108.2,134.5 L108.4,134.9 L108.6,135.3 L108.8,135.7 L109.0,136.1 L109.2,136.4 L109.4,136.8 L109.6,137.2 L109.8,137.5 L110.0,137.9 L110.3,138.3 L110.5,138.7 L110.8,139.1 L111.1,139.5 L111.4,139.9 L111.7,140.2 L112.0,140.6 L112.3,140.9 L112.7,141.1 L113.0,141.4 L113.4,141.5 L113.8,141.7 L114.1,141.8 L114.5,141.9 L114.9,141.9 L115.3,141.9 L115.7,142.0 L116.1,142.0 L116.5,142.0 L116.9,142.0 L117.4,142.0 L117.8,142.1 L118.2,142.2 L118.6,142.3 L119.1,142.4 L119.5,142.5 L120.0,142.7 L120.5,142.8 L121.0,143.0 L121.4,143.2 L121.9,143.4 L122.5,143.6 L123.0,143.7 L123.5,143.9 L124.0,144.1 L124.6,144.2 L125.1,144.4 L125.6,144.5 L126.1,144.6 L126.6,144.6 L127.1,144.7 L127.6,144.7 L128.0,144.6 L128.4,144.6 L128.8,144.5 L129.2,144.3 L129.6,144.2 L130.0,144.0 L130.3,143.8 L130.7,143.6 L131.1,143.3 L131.5,143.1 L131.9,142.8 L132.3,142.5 L132.8,142.2 L133.2,141.9 L133.7,141.6 L134.2,141.3 L134.7,141.0 L135.1,140.7 L135.6,140.4 L136.1,140.1 L136.5,139.8 L136.9,139.5 L137.3,139.2 L137.7,138.8 L138.1,138.5 L138.4,138.2 L138.8,137.9 L139.1,137.6 L139.4,137.2 L139.8,136.9 L140.1,136.6 L140.4,136.2 L140.7,135.9 L141.0,135.6 L141.3,135.2 L141.5,134.8 L141.8,134.5 L142.0,134.1 L142.3,133.7 L142.5,133.2 L142.8,132.8 L143.0,132.4 L143.2,131.9 L143.4,131.5 L143.6,131.0 L143.8,130.6 L144.0,130.1 L144.1,129.7 L144.2,129.2 L144.3,128.8 L144.4,128.3 L144.4,127.9 L144.4,127.4 L144.4,127.0 L144.4,126.5 L144.4,126.1 L144.3,125.6 L144.3,125.1 L144.2,124.6 L144.2,124.1 L144.2,123.6 L144.1,123.1 L144.1,122.6 L144.1,122.1 L144.0,121.5 L144.0,121.0 L144.0,120.4 L144.0,119.9 L144.0,119.3 L144.0,118.8 L144.0,118.3 L143.9,117.8 L143.9,117.3 L143.9,116.8 L143.8,116.4 L143.8,116.0 L143.7,115.6 L143.6,115.2 L143.5,114.8 L143.3,114.5 L143.1,114.1 L142.9,113.7 L142.7,113.3 L142.5,112.9 L142.2,112.5 L141.9,112.0 L141.6,111.6 L141.3,111.1 L140.9,110.7 L140.5,110.2 L140.2,109.8 L139.8,109.4 L139.3,109.1 L138.9,108.8 L138.5,108.5 L138.0,108.2 L137.6,108.0 L137.1,107.9 L136.7,107.8 L136.2,107.7 L135.7,107.6 L135.3,107.5 L134.8,107.4 L134.3,107.3 L133.8,107.2 L133.4,107.1 L132.9,106.9 L132.4,106.8 L131.9,106.5 L131.4,106.3 L131.0,106.1 L130.5,105.8 L130.0,105.5 L129.5,105.3 L129.0,105.0 L128.5,104.7 L128.0,104.5 L127.5,104.2 L126.9,104.0 L126.4,103.8 L125.9,103.6 L125.4,103.4 L124.8,103.3 L124.3,103.1 L123.8,103.0 L123.2,102.9 L122.7,102.8 L122.2,102.7 L121.7,102.6 L121.2,102.6 L120.7,102.5 L120.3,102.5 L119.8,102.4 L119.4,102.4 L119.0,102.4 L118.6,102.4 L118.2,102.4 L117.9,102.5 L117.5,102.5 L117.1,102.6 L116.7,102.7 L116.4,102.8 L116.0,103.0 L115.6,103.1 L115.2,103.3 L114.8,103.5 L114.3,103.7 L113.9,103.9 L113.4,104.1 L112.9,104.4 L112.4,104.6 L112.0,104.9 L111.5,105.2 L111.0,105.4 L110.6,105.7 L110.3,106.0 L109.9,106.3 L109.6,106.6 L109.3,106.8 L109.1,107.1 L108.9,107.4 L108.8,107.7 L108.6,108.0 L108.4,108.4 L108.3,108.7 L108.1,109.0 L107.9,109.3 L107.6,109.7 L107.3,110.0 L107.0,110.4 L106.7,110.7 L106.3,111.1 L106.0,111.5 L105.6,111.9 L105.3,112.3 L105.0,112.8 L104.7,113.2 L104.4,113.7 L104.2,114.2 L103.9,114.7 L103.7,115.3 L103.5,115.8 L103.2,116.4 L103.0,116.9 L102.7,117.5 L102.4,118.1 L102.0,118.7 L101.7,119.4 L101.3,120.0 L101.0,120.6 L100.8,121.2 L100.5,121.8 L100.4,122.4 L100.3,123.0 L100.3,123.5 L100.4,124.1 L100.5,124.7 L100.7,125.2 L100.9,125.7 L101.2,126.3 L101.5,126.8 L101.7,127.4 L102.0,127.9 L102.2,128.5 L102.4,129.1 L102.5,129.7 L102.6,130.4 L102.7,131.1 L102.7,131.7 L102.7,132.4 L102.7,133.1 L102.7,133.8 L102.6,134.5 L102.6,135.2 L102.5,135.8 L102.5,136.4 L102.5,137.0 L102.5,137.5 L102.5,138.0 L102.6,138.5 L102.7,138.9 L102.8,139.4 L103.0,139.8 L103.2,140.3 L103.4,140.7 L103.6,141.2 L103.9,141.7 L104.2,142.2 L104.6,142.7 L104.9,143.2 L105.3,143.8 L105.7,144.3 L106.1,144.8 L106.5,145.4 L106.9,145.8 L107.3,146.3 L107.7,146.7 L108.2,147.1 L108.6,147.5 L109.0,147.8 L109.5,148.0 L109.9,148.2 L110.3,148.4 L110.7,148.6 L111.2,148.7 L111.6,148.8 L112.0,148.9 L112.5,149.0 L112.9,149.1 L113.3,149.2 L113.8,149.2 L114.2,149.3 L114.7,149.4 L115.2,149.5 L115.6,149.6 L116.1,149.7 L116.6,149.8 L117.1,149.8 L117.6,149.9 L118.1,150.0 L118.6,150.1 L119.1,150.1 L119.6,150.2 L120.1,150.2 L120.6,150.2 L121.1,150.3 L121.6,150.3 L122.0,150.3 L122.5,150.3 L123.0,150.3 L123.4,150.3 L123.8,150.3 L124.2,150.3 L124.6,150.3 L125.0,150.3 L125.4,150.3 L125.8,150.3 L126.2,150.3 L126.6,150.2 L127.0,150.2 L127.4,150.2 L127.9,150.1 L128.3,150.1 L128.8,150.0 L129.3,149.9 L129.8,149.8 L130.4,149.7 L130.9,149.5 L131.4,149.4 L131.9,149.2 L132.3,148.9 L132.7,148.7 L133.1,148.4 L133.4,148.2 L133.7,147.9 L134.0,147.5 L134.2,147.2 L134.5,146.9 L134.7,146.5 L134.9,146.1 L135.2,145.8 L135.4,145.4 L135.7,145.0 L136.0,144.6 L136.3,144.3 L136.7,143.9 L137.0,143.5 L137.3,143.1 L137.7,142.7 L138.0,142.3 L138.3,141.9 L138.6,141.5 L138.9,141.1 L139.2,140.7 L139.4,140.4 L139.7,140.0 L139.9,139.6 L140.1,139.2 L140.3,138.7 L140.5,138.3 L140.7,137.9 L140.9,137.5 L141.1,137.1 L141.3,136.7 L141.5,136.3 L141.6,135.9 L141.8,135.4 L141.9,135.0 L142.0,134.6 L142.1,134.1 L142.2,133.6 L142.3,133.1 L142.3,132.7 L142.4,132.2 L142.5,131.7 L142.5,131.2 L142.6,130.7 L142.6,130.3 L142.6,129.8 L142.6,129.3 L142.5,128.8 L142.5,128.3 L142.4,127.9 L142.2,127.4 L142.1,126.9 L141.9,126.4 L141.7,125.9 L141.5,125.3 L141.3,124.8 L141.1,124.3 L140.8,123.8 L140.6,123.3 L140.3,122.7 L140.1,122.3 L139.8,121.8 L139.6,121.3 L139.3,120.9 L139.1,120.5 L138.8,120.1 L138.6,119.8 L138.4,119.4 L138.1,119.1 L137.9,118.8 L137.7,118.5 L137.5,118.3 L137.3,118.0 L137.0,117.7 L136.8,117.4 L136.6,117.1 L136.3,116.8 L136.1,116.5 L135.8,116.2 L135.5,115.8 L135.3,115.5 L134.9,115.2 L134.6,114.9 L134.3,114.6 L133.9,114.4 L133.6,114.2 L133.2,114.0 L132.8,113.8 L132.4,113.7 L132.0,113.6 L131.6,113.4 L131.2,113.3 L130.8,113.2 L130.4,113.0 L129.9,112.9 L129.5,112.7 L129.1,112.5 L128.6,112.2 L128.2,112.0 L127.8,111.7 L127.4,111.4 L126.9,111.1 L126.5,110.8 L126.1,110.4 L125.6,110.1 L125.2,109.8 L124.8,109.6 L124.3,109.3 L123.9,109.1 L123.5,108.9 L123.0,108.8 L122.5,108.7 L122.0,108.6 L121.5,108.6 L121.0,108.6 L120.5,108.6 L120.0,108.7 L119.5,108.8 L119.0,109.0 L118.4,109.1 L117.9,109.3 L117.4,109.5 L116.9,109.7 L116.4,110.0 L115.9,110.2 L115.5,110.5 L115.1,110.8 L114.7,111.0 L114.4,111.3 L114.0,111.6 L113.7,111.9 L113.4,112.2 L113.1,112.4 L112.8,112.7 L112.4,113.0 L112.1,113.3 L111.7,113.6 L111.2,113.8 L110.8,114.1 L110.3,114.4 L109.8,114.7 L109.2,115.0 L108.7,115.3 L108.2,115.6 L107.6,115.9 L107.1,116.2 L106.7,116.6 L106.3,116.9 L105.9,117.2 L105.5,117.6 L105.2,118.0 L104.9,118.3 L104.6,118.7 L104.2,119.1 L103.9,119.6 L103.5,120.0 L103.1,120.4 L102.7,120.9 L102.3,121.4 L101.9,121.8 L101.6,122.3 L101.3,122.8 L101.1,123.3 L100.9,123.8 L100.8,124.3 L100.8,124.8 L100.9,125.3 L100.9,125.8 L101.1,126.3 L101.2,126.8 L101.4,127.3 L101.5,127.9 L101.5,128.4 L101.6,129.0 L101.5,129.6 L101.5,130.2 L101.3,130.8 L101.2,131.5 L101.0,132.1 L100.8,132.8 L100.5,133.5 L100.3,134.2 L100.1,134.9 L99.9,135.6 L99.8,136.2 L99.7,136.9 L99.6,137.5 L99.6,138.1 L99.6,138.7 L99.7,139.3 L99.8,139.8 L99.9,140.3 L100.1,140.8 L100.3,141.3 L100.6,141.7 L100.8,142.2 L101.1,142.6 L101.4,143.1 L101.7,143.6 L102.0,144.1 L102.4,144.6 L102.7,145.2 L103.0,145.7 L103.3,146.3 L103.6,146.9 L104.0,147.5 L104.3,148.1 L104.6,148.6 L104.9,149.2 L105.1,149.7 L105.4,150.2 L105.7,150.6 L105.9,151.1 L106.2,151.5 L106.5,151.8 L106.7,152.2 L107.0,152.5 L107.2,152.8 L107.5,153.1 L107.8,153.4 L108.0,153.7 L108.3,153.9 L108.6,154.2 L108.9,154.5 L109.2,154.8 L109.5,155.1 L109.8,155.4 L110.1,155.7 L110.4,156.0 L110.7,156.2 L111.1,156.5 L111.4,156.7 L111.8,156.9 L112.2,157.1 L112.5,157.3 L112.9,157.4 L113.3,157.5 L113.7,157.6 L114.1,157.6 L114.4,157.6 L114.8,157.5 L115.2,157.5 L115.6,157.4 L116.0,157.3 L116.4,157.2 L116.7,157.1 L117.1,157.0 L117.5,157.0 L117.9,156.9 L118.3,156.8 L118.8,156.8 L119.2,156.8 L119.6,156.8 L120.1,156.8 L120.6,156.9 L121.1,156.9 L121.6,157.0 L122.2,157.1 L122.8,157.2 L123.3,157.3 L123.9,157.4 L124.5,157.5 L125.1,157.6 L125.7,157.7 L126.3,157.7 L126.8,157.8 L127.3,157.8 L127.8,157.8 L128.3,157.7 L128.8,157.6 L129.2,157.5 L129.6,157.4 L130.0,157.2 L130.4,157.0 L130.8,156.8 L131.3,156.5 L131.8,156.2 L132.3,155.9 L132.8,155.6 L133.3,155.3 L133.9,154.9 L134.5,154.5 L135.0,154.1 L135.6,153.7 L136.1,153.3 L136.6,152.9 L137.1,152.5 L137.5,152.1 L137.8,151.6 L138.1,151.2 L138.4,150.8 L138.6,150.4 L138.8,150.0 L138.9,149.5 L139.1,149.1 L139.3,148.7 L139.4,148.3 L139.6,147.9 L139.8,147.5 L140.0,147.1 L140.2,146.7 L140.4,146.3 L140.6,145.8 L140.7,145.4 L140.9,145.0 L141.1,144.6 L141.2,144.1 L141.3,143.7 L141.4,143.2 L141.5,142.8 L141.6,142.3 L141.6,141.9 L141.7,141.4 L141.8,141.0 L141.8,140.5 L141.9,140.0 L142.0,139.6 L142.0,139.1 L142.1,138.6 L142.2,138.2 L142.2,137.7 L142.2,137.3 L142.3,136.8 L142.3,136.4 L142.3,135.9 L142.2,135.5 L142.2,135.0 L142.1,134.6 L142.0,134.1 L142.0,133.6 L141.9,133.2 L141.8,132.7 L141.7,132.2 L141.6,131.8 L141.5,131.3 L141.4,130.8 L141.3,130.4 L141.1,130.0 L140.9,129.5 L140.7,129.1 L140.5,128.6 L140.3,128.2 L140.1,127.7 L139.8,127.3 L139.5,126.8 L139.2,126.4 L138.9,125.9 L138.6,125.5 L138.2,125.1 L137.9,124.7 L137.5,124.4 L137.2,124.1 L136.8,123.8 L136.4,123.5 L136.0,123.3 L135.7,123.1 L135.3,122.9 L134.9,122.7 L134.5,122.6 L134.2,122.4 L133.8,122.2 L133.4,122.1 L133.0,121.9 L132.6,121.7 L132.3,121.5 L131.9,121.2 L131.5,120.9 L131.1,120.6 L130.8,120.4 L130.4,120.1 L130.0,119.8 L129.6,119.5 L129.1,119.2 L128.7,119.0 L128.3,118.8 L127.8,118.6 L127.4,118.4 L126.9,118.2 L126.5,118.0 L126.0,117.9 L125.5,117.7 L125.0,117.6 L124.5,117.5 L124.0,117.3 L123.5,117.2 L123.1,117.1 L122.6,117.0 L122.1,116.9 L121.6,116.8 L121.2,116.8 L120.8,116.7 L120.3,116.7 L119.9,116.7 L119.5,116.7 L119.1,116.7 L118.7,116.7 L118.3,116.8 L117.9,116.9 L117.5,117.1 L117.0,117.2 L116.6,117.4 L116.1,117.6 L115.6,117.9 L115.0,118.1 L114.5,118.4 L113.9,118.7 L113.3,119.0 L112.7,119.3 L112.1,119.6 L111.6,119.9 L111.0,120.3 L110.6,120.6 L110.1,120.9 L109.7,121.3 L109.4,121.6 L109.0,122.0 L108.7,122.3 L108.5,122.6 L108.2,123.0 L108.0,123.3 L107.7,123.7 L107.4,124.1 L107.1,124.4 L106.8,124.8 L106.4,125.2 L106.1,125.6 L105.8,126.0 L105.5,126.4 L105.3,126.8 L105.1,127.2 L104.9,127.7 L104.8,128.1 L104.7,128.6 L104.7,129.1 L104.7,129.6 L104.6,130.1 L104.6,130.7 L104.5,131.2 L104.3,131.8 L104.1,132.3 L103.9,132.9 L103.6,133.5 L103.2,134.1 L102.8,134.7 L102.5,135.3 L102.1,135.9 L101.7,136.4 L101.4,137.0 L101.1,137.6 L100.9,138.1 L100.7,138.7 L100.6,139.2 L100.6,139.7 L100.6,140.2 L100.6,140.7 L100.7,141.2 L100.9,141.7 L101.0,142.2 L101.2,142.7 L101.4,143.2 L101.6,143.7 L101.8,144.2 L102.0,144.8 L102.1,145.3 L102.3,145.9 L102.5,146.5 L102.6,147.1 L102.8,147.7 L102.9,148.3 L103.0,148.9 L103.1,149.5 L103.2,150.1 L103.3,150.6 L103.4,151.2 L103.4,151.7 L103.5,152.2 L103.6,152.6 L103.7,153.1 L103.7,153.5 L103.8,153.9 L103.9,154.3 L104.0,154.6 L104.1,155.0 L104.2,155.4 L104.3,155.7 L104.4,156.1 L104.6,156.5 L104.7,156.9 L104.9,157.3 L105.1,157.7 L105.3,158.1 L105.5,158.6 L105.8,159.0 L106.0,159.5 L106.3,159.9 L106.6,160.3 L106.8,160.7 L107.2,161.1 L107.5,161.5 L107.8,161.8 L108.2,162.1 L108.5,162.4 L108.9,162.6 L109.3,162.8 L109.7,162.9 L110.1,163.1 L110.5,163.2 L110.9,163.2 L111.4,163.3 L111.8,163.3 L112.3,163.3 L112.8,163.4 L113.3,163.4 L113.8,163.4 L114.3,163.4 L114.8,163.5 L115.3,163.5 L115.9,163.6 L116.4,163.7 L117.0,163.8 L117.6,163.9 L118.2,163.9 L118.7,164.0 L119.3,164.1 L119.9,164.2 L120.4,164.3 L121.0,164.4 L121.5,164.5 L122.0,164.5 L122.5,164.6 L123.0,164.7 L123.5,164.7 L123.9,164.7 L124.4,164.8 L124.8,164.8 L125.2,164.8 L125.6,164.8 L126.1,164.8 L126.5,164.8 L127.0,164.8 L127.5,164.7 L128.0,164.6 L128.5,164.6 L129.1,164.5 L129.7,164.3 L130.2,164.2 L130.8,164.0 L131.3,163.8 L131.9,163.6 L132.4,163.4 L132.8,163.1 L133.2,162.8 L133.6,162.5 L133.9,162.2 L134.2,161.8 L134.6,161.5 L134.9,161.1 L135.2,160.8 L135.5,160.4 L135.8,160.0 L136.2,159.6 L136.7,159.2 L137.1,158.8 L137.6,158.5 L138.1,158.1 L138.6,157.7 L139.1,157.3 L139.6,156.9 L140.1,156.5 L140.5,156.1 L140.9,155.7 L141.3,155.3 L141.6,154.9 L141.9,154.5 L142.2,154.0 L142.5,153.6 L142.7,153.2 L142.9,152.8 L143.2,152.4 L143.4,151.9 L143.6,151.5 L143.9,151.1 L144.1,150.6 L144.3,150.2 L144.5,149.8 L144.7,149.4 L144.8,149.0 L145.0,148.6 L145.1,148.2 L145.1,147.7 L145.1,147.3 L145.1,146.9 L145.1,146.5 L145.1,146.1 L145.0,145.7 L144.9,145.3 L144.8,144.8 L144.7,144.4 L144.6,144.0 L144.5,143.5 L144.4,143.1 L144.3,142.6 L144.2,142.2 L144.1,141.7 L144.0,141.2 L144.0,140.8 L143.9,140.3 L143.8,139.8 L143.8,139.3 L143.7,138.8 L143.6,138.4 L143.5,137.9 L143.4,137.5 L143.3,137.0 L143.1,136.6 L143.0,136.2 L142.8,135.8 L142.6,135.4 L142.4,135.0 L142.2,134.6 L141.9,134.2 L141.7,133.7 L141.5,133.3 L141.2,132.9 L141.0,132.5 L140.7,132.2 L140.5,131.8 L140.2,131.4 L139.9,131.1 L139.6,130.7 L139.3,130.4 L139.0,130.0 L138.7,129.7 L138.3,129.4 L138.0,129.0 L137.6,128.7 L137.2,128.4 L136.8,128.1 L136.4,127.8 L136.0,127.6 L135.5,127.4 L135.1,127.2 L134.6,127.0 L134.2,126.9 L133.7,126.8 L133.2,126.7 L132.7,126.6 L132.2,126.5 L131.7,126.5 L131.2,126.4 L130.7,126.4 L130.2,126.3 L129.7,126.2 L129.2,126.1 L128.7,126.0 L128.2,125.8 L127.8,125.7 L127.3,125.5 L126.9,125.2 L126.4,125.0 L126.0,124.8 L125.6,124.6 L125.2,124.4 L124.8,124.2 L124.4,124.0 L124.0,123.8 L123.6,123.7 L123.2,123.6 L122.8,123.6 L122.3,123.5 L121.9,123.5 L121.4,123.6 L120.9,123.6 L120.4,123.7 L119.9,123.9 L119.4,124.1 L118.8,124.3 L118.3,124.5 L117.9,124.7 L117.4,125.0 L117.0,125.3 L116.6,125.6 L116.2,126.0 L115.9,126.3 L115.7,126.7 L115.4,127.1 L115.2,127.5 L115.0,127.9 L114.7,128.3 L114.5,128.7 L114.2,129.2 L113.9,129.6 L113.6,130.0 L113.2,130.4 L112.8,130.9 L112.4,131.3 L112.0,131.7 L111.6,132.1 L111.2,132.6 L110.8,133.0 L110.4,133.4 L110.1,133.8 L109.8,134.3 L109.5,134.7 L109.2,135.1 L108.9,135.5 L108.7,135.9 L108.4,136.4 L108.1,136.8 L107.8,137.2 L107.4,137.7 L107.1,138.1 L106.7,138.5 L106.3,139.0 L105.9,139.4 L105.6,139.9 L105.2,140.4 L105.0,140.8 L104.7,141.3 L104.6,141.8 L104.5,142.4 L104.5,142.9 L104.5,143.4 L104.6,144.0 L104.7,144.6 L104.8,145.1 L105.0,145.7 L105.2,146.3 L105.3,146.9 L105.5,147.4 L105.6,148.0 L105.7,148.6 L105.8,149.1 L105.8,149.7 L105.8,150.2 L105.8,150.7 L105.7,151.2 L105.7,151.7 L105.6,152.2 L105.5,152.6 L105.4,153.0 L105.3,153.5 L105.2,153.9 L105.1,154.3 L105.0,154.7 L105.0,155.1 L104.9,155.6 L104.9,156.0 L104.9,156.4 L104.9,156.9 L104.9,157.3 L105.0,157.8 L105.1,158.3 L105.2,158.8 L105.3,159.3 L105.5,159.8 L105.7,160.3 L105.9,160.8 L106.1,161.3 L106.3,161.8 L106.6,162.3 L106.9,162.8 L107.2,163.2 L107.5,163.6 L107.8,163.9 L108.2,164.3 L108.5,164.6 L108.9,164.9 L109.3,165.2 L109.7,165.4 L110.0,165.6 L110.4,165.8 L110.8,166.1 L111.2,166.3 L111.7,166.5 L112.1,166.7 L112.5,166.9 L112.9,167.1 L113.3,167.4 L113.8,167.6 L114.2,167.8 L114.6,168.1 L115.0,168.3 L115.5,168.5 L115.9,168.7 L116.3,168.9 L116.8,169.0 L117.2,169.1 L117.7,169.2 L118.1,169.3 L118.6,169.3 L119.1,169.4 L119.6,169.4 L120.1,169.4 L120.6,169.4 L121.1,169.5 L121.7,169.5 L122.3,169.6 L122.8,169.8 L123.4,169.9 L124.1,170.1 L124.7,170.3 L125.3,170.5 L126.0,170.7 L126.6,171.0 L127.2,171.2 L127.8,171.4 L128.4,171.6 L129.0,171.8 L129.5,171.9 L130.0,172.0 L130.5,172.0 L131.0,172.0 L131.5,172.0 L131.9,171.9 L132.4,171.7 L132.9,171.5 L133.4,171.3 L133.9,171.0 L134.5,170.8 L135.1,170.4 L135.7,170.1 L136.3,169.7 L136.9,169.4 L137.5,169.0 L138.1,168.6 L138.7,168.3 L139.2,167.9 L139.7,167.5 L140.1,167.2 L140.4,166.8 L140.8,166.5 L141.1,166.2 L141.3,165.9 L141.6,165.6 L141.8,165.3 L142.1,165.0 L142.3,164.7 L142.6,164.4 L142.9,164.1 L143.3,163.8 L143.6,163.5 L143.9,163.2 L144.3,163.0 L144.6,162.7 L144.9,162.4 L145.2,162.1 L145.5,161.7 L145.7,161.4 L145.9,161.1 L146.1,160.8 L146.2,160.4 L146.3,160.1 L146.5,159.7 L146.6,159.4 L146.8,159.0 L147.0,158.7 L147.2,158.3 L147.4,157.9 L147.6,157.6 L147.9,157.2 L148.2,156.8 L148.5,156.4 L148.8,156.0 L149.1,155.6 L149.4,155.2 L149.7,154.8 L149.9,154.3 L150.1,153.9 L150.3,153.4 L150.4,152.9 L150.5,152.4 L150.5,151.9 L150.5,151.4 L150.4,150.9 L150.3,150.3 L150.1,149.7 L150.0,149.2 L149.7,148.6 L149.5,148.1 L149.3,147.5 L149.1,147.0 L148.8,146.5 L148.6,146.0 L148.4,145.5 L148.2,145.0 L148.0,144.5 L147.8,144.1 L147.6,143.7 L147.4,143.2 L147.2,142.8 L147.0,142.4 L146.9,142.0 L146.7,141.5 L146.5,141.1 L146.3,140.7 L146.2,140.2 L146.0,139.8 L145.8,139.3 L145.6,138.9 L145.4,138.5 L145.1,138.0 L144.9,137.6 L144.6,137.2 L144.4,136.9 L144.1,136.5 L143.8,136.1 L143.5,135.8 L143.2,135.5 L142.8,135.2 L142.5,134.9 L142.1,134.6 L141.8,134.3 L141.4,134.0 L141.1,133.7 L140.7,133.4 L140.3,133.2 L140.0,132.9 L139.6,132.7 L139.2,132.4 L138.8,132.2 L138.4,132.0 L138.0,131.9 L137.6,131.7 L137.2,131.5 L136.8,131.3 L136.3,131.2 L135.9,131.1 L135.5,130.9 L135.1,130.8 L134.6,130.7 L134.2,130.6 L133.8,130.6 L133.4,130.5 L133.0,130.5 L132.6,130.5 L132.2,130.5 L131.8,130.5 L131.4,130.6 L131.0,130.6 L130.6,130.6 L130.2,130.7 L129.8,130.7 L129.3,130.8 L128.9,130.8 L128.5,130.9 L128.0,130.9 L127.5,130.9 L127.0,131.0 L126.5,131.0 L126.0,131.0 L125.4,131.1 L124.9,131.1 L124.4,131.2 L123.9,131.2 L123.5,131.3 L123.0,131.4 L122.6,131.5 L122.3,131.7 L121.9,131.9 L121.6,132.1 L121.2,132.3 L120.9,132.5 L120.5,132.8 L120.2,133.1 L119.8,133.4 L119.4,133.8 L118.9,134.1 L118.4,134.5 L117.9,134.9 L117.4,135.3 L116.8,135.8 L116.2,136.2 L115.7,136.7 L115.2,137.1 L114.7,137.6 L114.3,138.1 L113.9,138.6 L113.6,139.1 L113.3,139.6 L113.1,140.1 L112.9,140.6 L112.7,141.2 L112.5,141.7 L112.3,142.2 L112.2,142.7 L112.0,143.2 L111.8,143.7 L111.6,144.2 L111.4,144.7 L111.2,145.2 L111.1,145.7 L110.9,146.2 L110.8,146.7 L110.7,147.2 L110.6,147.6 L110.6,148.1 L110.6,148.5 L110.6,149.0 L110.6,149.4 L110.7,149.9 L110.7,150.3 L110.7,150.8 L110.8,151.2 L110.8,151.7 L110.7,152.1 L110.7,152.6 L110.6,153.1 L110.5,153.5 L110.3,154.0 L110.2,154.5 L110.0,155.0 L109.8,155.5 L109.6,156.1 L109.4,156.6 L109.2,157.1 L109.1,157.7 L108.9,158.2 L108.8,158.7 L108.7,159.2 L108.7,159.8 L108.6,160.3 L108.7,160.8 L108.7,161.2 L108.8,161.7 L108.9,162.1 L109.1,162.5 L109.3,162.9 L109.5,163.3 L109.8,163.6 L110.0,163.9 L110.3,164.3 L110.6,164.6 L110.9,164.9 L111.3,165.2 L111.6,165.5 L112.0,165.8 L112.3,166.1 L112.7,166.5 L113.1,166.8 L113.4,167.2 L113.8,167.6 L114.2,167.9 L114.6,168.3 L114.9,168.7 L115.3,169.0 L115.7,169.4 L116.0,169.7 L116.4,170.0 L116.7,170.2 L117.1,170.4 L117.5,170.6 L117.8,170.8 L118.2,170.9 L118.6,171.0 L118.9,171.1 L119.3,171.3 L119.7,171.4 L120.1,171.6 L120.5,171.7 L120.9,172.0 L121.3,172.2 L121.7,172.5 L122.2,172.9 L122.6,173.2 L123.1,173.6 L123.6,174.0 L124.1,174.4 L124.7,174.8 L125.2,175.1 L125.8,175.5 L126.4,175.7 L127.0,176.0 L127.6,176.1 L128.3,176.3 L128.9,176.4 L129.6,176.4 L130.2,176.4 L130.9,176.3 L131.5,176.2 L132.1,176.1 L132.7,176.0 L133.3,175.9 L133.8,175.7 L134.3,175.5 L134.8,175.4 L135.3,175.2 L135.8,175.0 L136.4,174.9 L136.9,174.7 L137.5,174.5 L138.0,174.4 L138.7,174.2 L139.3,174.1 L140.0,173.9 L140.7,173.8 L141.4,173.6 L142.1,173.5 L142.7,173.4 L143.4,173.3 L144.0,173.1 L144.5,173.0 L145.0,172.9 L145.5,172.7 L145.9,172.6 L146.3,172.4 L146.7,172.3 L147.1,172.1 L147.5,171.9 L147.9,171.7 L148.3,171.5 L148.7,171.3 L149.2,171.0 L149.6,170.8 L150.1,170.5 L150.5,170.2 L150.9,169.9 L151.3,169.6 L151.7,169.2 L152.0,168.9 L152.3,168.5 L152.5,168.2 L152.6,167.8 L152.7,167.4 L152.8,167.0 L152.8,166.6 L152.9,166.2 L152.9,165.7 L152.9,165.3 L152.9,164.8 L153.0,164.4 L153.0,163.9 L153.1,163.4 L153.3,163.0 L153.4,162.5 L153.6,162.0 L153.7,161.5 L153.9,161.0 L154.1,160.5 L154.3,159.9 L154.6,159.4 L154.7,158.9 L154.9,158.3 L155.1,157.8 L155.3,157.3 L155.4,156.7 L155.5,156.2 L155.6,155.7 L155.7,155.2 L155.8,154.7 L155.8,154.2 L155.8,153.7 L155.9,153.3 L155.8,152.9 L155.8,152.4 L155.8,152.0 L155.7,151.7 L155.6,151.3 L155.5,150.9 L155.4,150.5 L155.2,150.1 L155.1,149.8 L154.9,149.4 L154.7,149.0 L154.5,148.5 L154.2,148.1 L154.0,147.6 L153.7,147.1 L153.5,146.6 L153.2,146.1 L153.0,145.6 L152.7,145.1 L152.4,144.6 L152.2,144.1 L151.9,143.7 L151.6,143.2 L151.4,142.8 L151.1,142.4 L150.8,142.0 L150.6,141.6 L150.3,141.3 L150.0,140.9 L149.8,140.6 L149.5,140.3 L149.2,139.9 L148.9,139.6 L148.6,139.2 L148.3,138.9 L148.0,138.5 L147.6,138.2 L147.3,137.8 L147.0,137.5 L146.6,137.1 L146.2,136.8 L145.8,136.5 L145.4,136.3 L145.0,136.0 L144.6,135.8 L144.2,135.6 L143.8,135.4 L143.4,135.2 L143.0,135.0 L142.5,134.9 L142.1,134.7 L141.7,134.5 L141.2,134.4 L140.8,134.3 L140.3,134.1 L139.9,134.0 L139.5,133.9 L139.0,133.9 L138.6,133.8 L138.1,133.8 L137.7,133.8 L137.2,133.8 L136.8,133.8 L136.4,133.8 L136.0,133.9 L135.6,133.9 L135.2,134.0 L134.7,134.1 L134.3,134.2 L133.9,134.3 L133.5,134.4 L133.1,134.5 L132.6,134.6 L132.2,134.7 L131.7,134.8 L131.2,135.0 L130.7,135.1 L130.2,135.2 L129.7,135.4 L129.2,135.5 L128.6,135.7 L128.1,135.8 L127.6,136.0 L127.1,136.1 L126.6,136.3 L126.2,136.4 L125.8,136.6 L125.4,136.7 L125.0,136.9 L124.7,137.1 L124.3,137.3 L124.0,137.5 L123.6,137.7 L123.2,138.0 L122.8,138.3 L122.4,138.5 L122.0,138.8 L121.5,139.1 L121.1,139.5 L120.6,139.8 L120.2,140.1 L119.8,140.5 L119.5,140.9 L119.2,141.3 L119.0,141.7 L118.8,142.1 L118.6,142.6 L118.6,143.0 L118.5,143.5 L118.5,143.9 L118.5,144.4 L118.5,144.9 L118.5,145.4 L118.4,145.9 L118.4,146.4 L118.3,146.9 L118.2,147.5 L118.0,148.0 L117.8,148.5 L117.6,149.1 L117.4,149.6 L117.2,150.2 L117.0,150.7 L116.8,151.3 L116.6,151.8 L116.4,152.4 L116.2,152.9 L116.1,153.4 L115.9,154.0 L115.8,154.5 L115.7,155.0 L115.6,155.5 L115.5,155.9 L115.4,156.4 L115.3,156.8 L115.3,157.3 L115.2,157.7 L115.2,158.1 L115.1,158.5 L115.1,158.9 L115.1,159.3 L115.1,159.7 L115.1,160.1 L115.2,160.5 L115.3,160.9 L115.3,161.3 L115.5,161.7 L115.6,162.1 L115.8,162.6 L116.0,163.0 L116.2,163.5 L116.4,164.0 L116.7,164.5 L117.0,164.9 L117.2,165.4 L117.5,165.9 L117.8,166.3 L118.1,166.8 L118.5,167.2 L118.8,167.6 L119.1,167.9 L119.4,168.3 L119.8,168.6 L120.1,168.9 L120.4,169.1 L120.7,169.4 L121.1,169.7 L121.4,170.0 L121.7,170.3 L122.1,170.7 L122.4,171.1 L122.8,171.5 L123.1,171.9 L123.5,172.4 L123.9,172.9 L124.3,173.4 L124.7,174.0 L125.1,174.5 L125.5,174.9 L126.0,175.4 L126.4,175.8 L126.9,176.1 L127.5,176.4 L128.0,176.7 L128.5,176.9 L129.1,177.0 L129.6,177.1 L130.2,177.2 L130.8,177.3 L131.4,177.4 L132.0,177.4 L132.6,177.5 L133.2,177.5 L133.8,177.6 L134.3,177.6 L134.9,177.6 L135.4,177.7 L135.9,177.7 L136.4,177.7 L137.0,177.6 L137.5,177.6 L138.0,177.5 L138.5,177.5 L139.1,177.4 L139.6,177.3 L140.2,177.3 L140.8,177.2 L141.5,177.1 L142.1,177.1 L142.8,177.0 L143.5,177.0 L144.2,176.9 L144.8,176.9 L145.5,176.9 L146.1,176.8 L146.7,176.8 L147.3,176.7 L147.8,176.7 L148.3,176.6 L148.7,176.5 L149.2,176.4 L149.6,176.3 L150.1,176.1 L150.5,175.9 L151.0,175.7 L151.4,175.5 L152.0,175.3 L152.5,175.0 L153.1,174.7 L153.6,174.4 L154.2,174.1 L154.8,173.8 L155.3,173.4 L155.9,173.0 L156.4,172.7 L156.8,172.3 L157.2,171.9 L157.6,171.5 L157.9,171.1 L158.2,170.7 L158.4,170.3 L158.7,169.8 L158.9,169.4 L159.0,169.0 L159.2,168.6 L159.4,168.1 L159.6,167.7 L159.7,167.3 L159.9,166.8 L160.1,166.4 L160.3,165.9 L160.5,165.5 L160.7,165.1 L160.8,164.6 L161.0,164.2 L161.1,163.7 L161.2,163.3 L161.3,162.9 L161.3,162.4 L161.4,162.0 L161.4,161.6 L161.3,161.1 L161.3,160.7 L161.3,160.3 L161.2,159.9 L161.2,159.4 L161.2,159.0 L161.2,158.6 L161.2,158.2 L161.3,157.8 L161.3,157.4 L161.4,156.9 L161.5,156.5 L161.7,156.1 L161.8,155.6 L162.0,155.1 L162.1,154.6 L162.3,154.1 L162.4,153.6 L162.5,153.1 L162.6,152.5 L162.7,152.0 L162.8,151.4 L162.8,150.8 L162.7,150.3 L162.6,149.7 L162.5,149.2 L162.4,148.6 L162.2,148.1 L162.0,147.6 L161.7,147.2 L161.4,146.8 L161.1,146.4 L160.8,146.0 L160.4,145.7 L160.1,145.3 L159.7,145.0 L159.3,144.7 L159.0,144.4 L158.6,144.1 L158.2,143.8 L157.8,143.4 L157.5,143.1 L157.1,142.7 L156.8,142.3 L156.5,141.9 L156.1,141.5 L155.8,141.2 L155.5,140.8 L155.2,140.5 L154.9,140.1 L154.6,139.8 L154.3,139.6 L154.0,139.3 L153.7,139.1 L153.4,138.9 L153.1,138.7 L152.8,138.5 L152.4,138.3 L152.1,138.1 L151.7,137.9 L151.4,137.7 L151.0,137.4 L150.6,137.2 L150.2,137.0 L149.8,136.8 L149.4,136.5 L149.0,136.3 L148.6,136.1 L148.1,135.9 L147.7,135.7 L147.2,135.5 L146.8,135.4 L146.3,135.3 L145.8,135.1 L145.3,135.1 L144.9,135.0 L144.4,135.0 L143.9,134.9 L143.5,134.9 L143.0,134.9 L142.5,134.9 L142.1,134.9 L141.6,134.9 L141.1,134.9 L140.7,135.0 L140.2,135.0 L139.8,135.1 L139.3,135.1 L138.9,135.2 L138.4,135.4 L138.0,135.5 L137.6,135.6 L137.1,135.8 L136.7,136.0 L136.3,136.2 L135.9,136.5 L135.5,136.7 L135.1,137.0 L134.6,137.2 L134.2,137.5 L133.7,137.8 L133.2,138.1 L132.7,138.4 L132.2,138.8 L131.7,139.1 L131.2,139.4 L130.7,139.7 L130.2,140.1 L129.8,140.4 L129.4,140.7 L129.0,141.1 L128.7,141.4 L128.4,141.8 L128.2,142.1 L127.9,142.5 L127.7,142.8 L127.5,143.1 L127.2,143.5 L127.0,143.8 L126.8,144.1 L126.6,144.5 L126.3,144.8 L126.1,145.2 L125.8,145.5 L125.6,145.9 L125.4,146.2 L125.2,146.6 L125.0,146.9 L124.9,147.3 L124.8,147.7 L124.7,148.1 L124.6,148.4 L124.6,148.8 L124.6,149.2 L124.6,149.6 L124.5,150.0 L124.5,150.4 L124.4,150.8 L124.3,151.1 L124.2,151.5 L124.0,152.0 L123.8,152.4 L123.6,152.8 L123.4,153.2 L123.1,153.6 L122.9,154.1 L122.6,154.6 L122.4,155.0 L122.2,155.5 L122.0,156.0 L121.8,156.5 L121.7,157.1 L121.6,157.6 L121.5,158.1 L121.5,158.7 L121.5,159.3 L121.6,159.8 L121.7,160.4 L121.9,160.9 L122.1,161.5 L122.3,162.0 L122.6,162.5 L122.9,163.0 L123.2,163.5 L123.5,163.9 L123.8,164.4 L124.2,164.8 L124.6,165.2 L124.9,165.6 L125.3,166.0 L125.7,166.4 L126.1,166.8 L126.4,167.3 L126.8,167.8 L127.2,168.2 L127.5,168.8 L127.9,169.3 L128.3,169.9 L128.6,170.4 L129.0,171.0 L129.3,171.5 L129.7,172.0 L130.0,172.5 L130.4,172.9 L130.7,173.3 L131.1,173.7 L131.5,173.9 L131.8,174.2 L132.2,174.3 L132.6,174.5 L133.0,174.6 L133.3,174.7 L133.7,174.8 L134.1,174.9 L134.6,175.0 L135.0,175.1 L135.4,175.3 L135.8,175.4 L136.3,175.6 L136.7,175.8 L137.2,175.9 L137.7,176.1 L138.2,176.2 L138.7,176.4 L139.3,176.5 L139.8,176.6 L140.4,176.7 L141.0,176.8 L141.6,176.8 L142.2,176.9 L142.9,177.0 L143.5,177.1 L144.2,177.1 L144.8,177.2 L145.5,177.3 L146.1,177.5 L146.7,177.6 L147.3,177.7 L147.9,177.8 L148.4,177.9 L149.0,178.0 L149.4,178.1 L149.9,178.1 L150.4,178.1 L150.8,178.1 L151.3,178.1 L151.7,178.0 L152.2,177.9 L152.7,177.8 L153.2,177.6 L153.8,177.4 L154.3,177.2 L154.9,176.9 L155.5,176.7 L156.1,176.4 L156.7,176.1 L157.3,175.9 L157.9,175.6 L158.4,175.3 L158.9,175.0 L159.4,174.7 L159.9,174.4 L160.3,174.1 L160.7,173.8 L161.0,173.5 L161.4,173.2 L161.7,172.9 L162.0,172.6 L162.4,172.4 L162.7,172.1 L163.0,171.8 L163.4,171.6 L163.8,171.3 L164.2,171.0 L164.6,170.8 L164.9,170.5 L165.3,170.2 L165.7,170.0 L166.1,169.7 L166.4,169.4 L166.7,169.1 L167.0,168.8 L167.2,168.5 L167.4,168.2 L167.5,167.9 L167.6,167.6 L167.7,167.2 L167.7,166.9 L167.7,166.5 L167.6,166.1 L167.6,165.8 L167.6,165.4 L167.5,165.0 L167.5,164.5 L167.5,164.1 L167.5,163.6 L167.6,163.2 L167.6,162.7 L167.7,162.2 L167.9,161.7 L168.0,161.2 L168.2,160.6 L168.3,160.1 L168.5,159.6 L168.7,159.0 L168.8,158.5 L169.0,157.9 L169.1,157.4 L169.2,156.8 L169.4,156.3 L169.4,155.8 L169.5,155.3 L169.5,154.8 L169.6,154.3 L169.6,153.9 L169.6,153.4 L169.5,153.0 L169.4,152.5 L169.3,152.0 L169.2,151.6 L169.1,151.1 L168.9,150.6 L168.8,150.1 L168.6,149.5 L168.3,149.0 L168.1,148.4 L167.8,147.8 L167.6,147.1 L167.3,146.5 L167.0,145.9 L166.7,145.3 L166.4,144.7 L166.1,144.1 L165.8,143.5 L165.5,143.0 L165.2,142.5 L164.9,142.1 L164.6,141.6 L164.3,141.2 L164.0,140.9 L163.7,140.5 L163.4,140.2 L163.1,139.8 L162.8,139.5 L162.5,139.1 L162.3,138.8 L162.0,138.4 L161.7,138.0 L161.4,137.6 L161.1,137.2 L160.8,136.9 L160.5,136.5 L160.1,136.2 L159.8,135.9 L159.4,135.7 L159.1,135.5 L158.7,135.3 L158.3,135.2 L157.9,135.1 L157.5,135.0 L157.1,134.9 L156.7,134.9 L156.2,134.9 L155.8,134.9 L155.3,134.8 L154.9,134.8 L154.4,134.8 L154.0,134.8 L153.5,134.7 L153.1,134.6 L152.6,134.6 L152.2,134.5 L151.7,134.4 L151.3,134.3 L150.8,134.2 L150.4,134.1 L150.0,134.1 L149.5,134.0 L149.1,133.9 L148.6,133.9 L148.1,133.9 L147.7,133.9 L147.2,133.9 L146.7,133.9 L146.3,134.0 L145.8,134.1 L145.3,134.2 L144.8,134.3 L144.3,134.4 L143.9,134.6 L143.4,134.7 L143.0,134.9 L142.6,135.0 L142.1,135.2 L141.7,135.4 L141.3,135.5 L140.8,135.7 L140.4,135.9 L140.0,136.1 L139.6,136.3 L139.2,136.6 L138.8,136.8 L138.4,137.1 L138.1,137.4 L137.7,137.7 L137.3,138.0 L137.0,138.3 L136.6,138.7 L136.2,139.0 L135.8,139.4 L135.4,139.8 L135.0,140.1 L134.6,140.5 L134.2,140.9 L133.8,141.4 L133.5,141.8 L133.1,142.2 L132.8,142.6 L132.6,143.0 L132.4,143.5 L132.2,143.9 L132.1,144.4 L132.0,144.8 L132.0,145.2 L131.9,145.7 L131.9,146.1 L131.9,146.6 L131.9,147.1 L131.8,147.5 L131.8,148.0 L131.7,148.4 L131.6,148.9 L131.4,149.4 L131.3,149.9 L131.1,150.4 L131.0,150.9 L130.8,151.4 L130.6,151.9 L130.5,152.4 L130.3,153.0 L130.2,153.5 L130.1,154.0 L130.0,154.6 L129.9,155.1 L129.8,155.6 L129.7,156.2 L129.7,156.7 L129.7,157.2 L129.6,157.7 L129.6,158.1 L129.7,158.6 L129.7,159.0 L129.7,159.5 L129.8,159.9 L129.9,160.3 L130.0,160.6 L130.1,161.0 L130.3,161.4 L130.5,161.8 L130.7,162.2 L130.9,162.6 L131.2,163.1 L131.5,163.5 L131.8,164.0 L132.1,164.4 L132.5,164.9 L132.8,165.4 L133.2,165.9 L133.6,166.3 L134.0,166.8 L134.4,167.2 L134.8,167.5 L135.2,167.9 L135.7,168.2 L136.1,168.4 L136.5,168.6 L136.9,168.8 L137.4,168.9 L137.8,169.1 L138.2,169.2 L138.7,169.4 L139.1,169.5 L139.6,169.7 L140.0,169.9 L140.5,170.2 L140.9,170.5 L141.4,170.8 L141.9,171.2 L142.3,171.5 L142.8,171.9 L143.3,172.3 L143.7,172.6 L144.2,173.0 L144.7,173.3 L145.1,173.5 L145.6,173.8 L146.1,174.0 L146.5,174.3 L147.0,174.4 L147.4,174.6 L147.8,174.8 L148.3,174.9 L148.7,175.1 L149.2,175.2 L149.6,175.3 L150.1,175.5 L150.6,175.6 L151.1,175.7 L151.6,175.7 L152.1,175.8 L152.6,175.8 L153.2,175.9 L153.7,175.9 L154.3,175.8 L154.9,175.8 L155.5,175.7 L156.1,175.6 L156.7,175.5 L157.3,175.3 L157.9,175.2 L158.4,175.0 L158.9,174.8 L159.5,174.6 L159.9,174.5 L160.4,174.3 L160.8,174.1 L161.2,173.9 L161.6,173.7 L162.0,173.6 L162.4,173.4 L162.8,173.3 L163.2,173.1 L163.6,173.0 L164.0,172.8 L164.4,172.7 L164.9,172.6 L165.3,172.4 L165.8,172.3 L166.3,172.2 L166.8,172.0 L167.3,171.9 L167.8,171.7 L168.3,171.6 L168.7,171.4 L169.1,171.2 L169.5,171.0 L169.9,170.8 L170.2,170.6 L170.5,170.4 L170.8,170.1 L171.0,169.9 L171.2,169.6 L171.3,169.3 L171.5,169.0 L171.6,168.7 L171.8,168.4 L171.9,168.1 L172.1,167.7 L172.2,167.4 L172.4,167.0 L172.6,166.6 L172.8,166.2 L173.0,165.8 L173.1,165.4 L173.3,165.0 L173.5,164.6 L173.6,164.1 L173.8,163.7 L173.9,163.2 L174.0,162.8 L174.0,162.3 L174.1,161.8 L174.1,161.4 L174.1,160.9 L174.2,160.4 L174.2,159.9 L174.3,159.3 L174.4,158.8 L174.6,158.2 L174.8,157.7 L175.0,157.1 L175.2,156.5 L175.4,155.9 L175.7,155.2 L175.9,154.6 L176.1,154.0 L176.3,153.3 L176.5,152.7 L176.6,152.1 L176.7,151.5 L176.7,150.9 L176.7,150.3 L176.6,149.7 L176.5,149.2 L176.3,148.7 L176.0,148.2 L175.7,147.8 L175.4,147.3 L175.1,146.9 L174.7,146.5 L174.4,146.0 L174.0,145.6 L173.7,145.1 L173.3,144.7 L173.0,144.2 L172.7,143.6 L172.4,143.1 L172.1,142.5 L171.9,142.0 L171.6,141.4 L171.4,140.8 L171.2,140.3 L170.9,139.8 L170.7,139.3 L170.5,138.8 L170.3,138.4 L170.0,138.0 L169.8,137.6 L169.5,137.2 L169.3,136.9 L169.0,136.5 L168.7,136.2 L168.4,135.9 L168.1,135.5 L167.7,135.2 L167.4,134.8 L167.1,134.4 L166.8,134.0 L166.6,133.5 L166.3,133.1 L166.0,132.7 L165.7,132.2 L165.4,131.8 L165.0,131.4 L164.6,131.1 L164.2,130.7 L163.8,130.5 L163.4,130.2 L163.0,130.0 L162.6,129.9 L162.2,129.8 L161.8,129.7 L161.4,129.7 L161.0,129.7 L160.6,129.7 L160.1,129.8 L159.7,129.9 L159.3,130.0 L158.8,130.1 L158.4,130.2 L157.9,130.3 L157.5,130.4 L157.0,130.4 L156.5,130.5 L156.0,130.6 L155.5,130.6 L155.0,130.7 L154.5,130.7 L154.0,130.8 L153.4,130.8 L152.9,130.9 L152.4,130.9 L151.9,131.0 L151.4,131.1 L150.9,131.1 L150.5,131.2 L150.0,131.3 L149.6,131.4 L149.1,131.5 L148.7,131.6 L148.3,131.8 L147.9,131.9 L147.5,132.1 L147.1,132.3 L146.6,132.5 L146.2,132.7 L145.8,132.9 L145.4,133.2 L145.0,133.4 L144.5,133.7 L144.1,134.0 L143.8,134.3 L143.4,134.6 L143.0,134.9 L142.7,135.2 L142.3,135.5 L142.0,135.8 L141.6,136.1 L141.3,136.4 L141.0,136.8 L140.6,137.1 L140.3,137.4 L140.0,137.8 L139.8,138.1 L139.5,138.5 L139.2,138.9 L139.0,139.2 L138.7,139.6 L138.5,140.0 L138.2,140.5 L138.0,140.9 L137.7,141.3 L137.5,141.8 L137.3,142.2 L137.1,142.7 L136.9,143.1 L136.7,143.6 L136.6,144.1 L136.5,144.6 L136.4,145.1 L136.4,145.6 L136.4,146.1 L136.4,146.7 L136.5,147.2 L136.6,147.7 L136.7,148.2 L136.8,148.8 L136.9,149.3 L137.1,149.8 L137.2,150.3 L137.3,150.8 L137.3,151.2 L137.3,151.7 L137.3,152.1 L137.3,152.5 L137.3,152.9 L137.2,153.3 L137.2,153.6 L137.1,154.0 L137.1,154.4 L137.0,154.8 L137.0,155.1 L136.9,155.5 L136.9,155.9 L136.9,156.4 L137.0,156.8 L137.1,157.3 L137.2,157.7 L137.3,158.2 L137.4,158.7 L137.6,159.2 L137.9,159.6 L138.1,160.1 L138.4,160.5 L138.7,161.0 L139.1,161.3 L139.4,161.7 L139.8,162.0 L140.2,162.3 L140.6,162.6 L141.1,162.9 L141.5,163.2 L142.0,163.5 L142.5,163.8 L143.0,164.1 L143.4,164.5 L143.9,164.9 L144.5,165.3 L145.0,165.7 L145.5,166.2 L146.0,166.7 L146.5,167.1 L147.0,167.6 L147.6,168.1 L148.1,168.5 L148.6,168.9 L149.2,169.3 L149.7,169.6 L150.3,169.8 L150.8,170.1 L151.3,170.2 L151.9,170.4 L152.4,170.5 L153.0,170.5 L153.5,170.6 L154.0,170.6 L154.5,170.6 L155.1,170.6 L155.6,170.6 L156.1,170.6 L156.5,170.6 L157.0,170.6 L157.5,170.6 L157.9,170.6 L158.3,170.6 L158.8,170.6 L159.2,170.6 L159.6,170.7 L160.0,170.7 L160.4,170.7 L160.8,170.7 L161.3,170.7 L161.7,170.7 L162.1,170.7 L162.6,170.7 L163.1,170.6 L163.5,170.6 L164.0,170.6 L164.6,170.6 L165.1,170.6 L165.6,170.5 L166.1,170.5 L166.7,170.5 L167.2,170.4 L167.7,170.4 L168.2,170.3 L168.6,170.3 L169.1,170.2 L169.5,170.1 L169.9,170.0 L170.2,169.9 L170.5,169.8 L170.9,169.7 L171.1,169.5 L171.4,169.4 L171.7,169.2 L171.9,169.0 L172.2,168.8 L172.5,168.5 L172.8,168.3 L173.1,168.0 L173.4,167.7 L173.7,167.4 L174.1,167.1 L174.4,166.7 L174.7,166.4 L175.1,166.0 L175.4,165.6 L175.7,165.2 L175.9,164.7 L176.1,164.3 L176.3,163.9 L176.5,163.4 L176.6,162.9 L176.7,162.4 L176.7,162.0 L176.8,161.5 L176.9,161.0 L177.0,160.5 L177.2,160.0 L177.4,159.5 L177.6,159.0 L177.9,158.4 L178.2,157.9 L178.6,157.4 L179.0,156.9 L179.4,156.4 L179.8,155.9 L180.2,155.3 L180.5,154.8 L180.8,154.3 L181.1,153.7 L181.3,153.1 L181.5,152.6 L181.5,152.0 L181.6,151.3 L181.6,150.7 L181.5,150.1 L181.5,149.4 L181.4,148.7 L181.3,148.0 L181.2,147.4 L181.0,146.7 L180.9,146.0 L180.8,145.3 L180.6,144.7 L180.5,144.1 L180.4,143.5 L180.2,142.9 L180.1,142.3 L179.9,141.8 L179.8,141.3 L179.6,140.9 L179.4,140.4 L179.2,139.9 L179.0,139.5 L178.7,139.0 L178.4,138.5 L178.0,138.0 L177.6,137.5 L177.0,137.0 L176.5,136.4 L175.9,135.9 L175.3,135.4 L174.9,134.9 L174.5,134.4 L174.3,134.0 L174.3,133.6 L174.3,133.2 L174.3,132.8 L174.4,132.5 L174.4,132.2 L174.4,132.0 L174.3,131.7 L174.3,131.5 L174.1,131.3 L174.0,131.0 L173.8,130.8 L173.6,130.5 L173.3,130.3 L173.0,130.0 L172.7,129.7 L172.4,129.3 L172.0,129.0 L171.6,128.6 L171.2,128.2 L170.7,127.8 L170.3,127.5 L169.9,127.1 L169.4,126.7 L169.0,126.4 L168.6,126.1 L168.1,125.8 L167.7,125.5 L167.3,125.3 L166.8,125.1 L166.4,124.9 L166.0,124.7 L165.5,124.6 L165.1,124.5 L164.6,124.4 L164.1,124.3 L163.7,124.2 L163.2,124.1 L162.7,124.1 L162.2,124.0 L161.6,124.0 L161.1,124.0 L160.6,124.0 L160.1,124.0 L159.5,124.0 L159.0,124.1 L158.5,124.1 L158.0,124.2 L157.5,124.3 L157.0,124.4 L156.6,124.5 L156.2,124.7 L155.8,124.9 L155.4,125.0 L155.1,125.2 L154.7,125.4 L154.4,125.6 L154.1,125.8 L153.8,126.0 L153.4,126.2 L153.0,126.4 L152.7,126.6 L152.3,126.8 L151.9,127.0 L151.5,127.2 L151.0,127.4 L150.6,127.6 L150.2,127.8 L149.8,128.0 L149.4,128.3 L149.0,128.5 L148.6,128.8 L148.2,129.0 L147.9,129.3 L147.6,129.5 L147.2,129.8 L146.9,130.1 L146.6,130.4 L146.3,130.8 L146.0,131.1 L145.7,131.4 L145.4,131.8 L145.1,132.2 L144.8,132.6 L144.5,133.0 L144.2,133.4 L143.9,133.8 L143.6,134.2 L143.4,134.6 L143.1,135.0 L142.9,135.4 L142.7,135.8 L142.5,136.2 L142.2,136.6 L142.0,137.0 L141.8,137.4 L141.7,137.8 L141.5,138.3 L141.3,138.7 L141.2,139.1 L141.1,139.6 L140.9,140.0 L140.9,140.5 L140.8,140.9 L140.7,141.4 L140.7,141.9 L140.7,142.4 L140.6,142.8 L140.6,143.3 L140.7,143.8 L140.7,144.3 L140.7,144.8 L140.8,145.2 L140.9,145.7 L141.0,146.1 L141.1,146.5 L141.2,147.0 L141.3,147.4 L141.5,147.8 L141.6,148.1 L141.8,148.5 L141.9,148.9 L142.1,149.3 L142.3,149.6 L142.4,150.0 L142.6,150.4 L142.8,150.9 L142.9,151.4 L143.1,151.9 L143.2,152.4 L143.4,152.9 L143.5,153.5 L143.7,154.0 L143.9,154.6 L144.0,155.1 L144.2,155.6 L144.4,156.1 L144.6,156.6 L144.9,157.1 L145.1,157.5 L145.4,157.9 L145.6,158.2 L145.9,158.6 L146.2,158.9 L146.5,159.2 L146.9,159.6 L147.2,159.9 L147.6,160.2 L148.0,160.6 L148.3,160.9 L148.7,161.3 L149.2,161.7 L149.6,162.0 L150.0,162.4 L150.5,162.8 L150.9,163.1 L151.4,163.4 L151.8,163.7 L152.3,163.9 L152.8,164.1 L153.3,164.2 L153.8,164.3 L154.3,164.4 L154.8,164.4 L155.3,164.4 L155.8,164.4 L156.4,164.3 L156.9,164.3 L157.5,164.2 L158.0,164.2 L158.6,164.1 L159.1,164.1 L159.7,164.1 L160.2,164.1 L160.8,164.1 L161.3,164.2 L161.9,164.3 L162.4,164.4 L162.9,164.5 L163.4,164.7 L163.9,164.8 L164.4,164.9 L164.8,165.1 L165.2,165.2 L165.7,165.4 L166.1,165.5 L166.4,165.6 L166.8,165.7 L167.2,165.8 L167.5,165.9 L167.9,165.9 L168.2,166.0 L168.6,166.0 L168.9,165.9 L169.3,165.9 L169.7,165.8 L170.1,165.7 L170.6,165.6 L171.0,165.4 L171.4,165.2 L171.9,165.0 L172.3,164.8 L172.8,164.6 L173.2,164.3 L173.6,164.0 L174.0,163.7 L174.4,163.4 L174.7,163.0 L175.0,162.7 L175.3,162.3 L175.5,161.9 L175.7,161.5 L176.0,161.1 L176.2,160.6 L176.5,160.2 L176.7,159.8 L177.1,159.3 L177.4,158.8 L177.8,158.4 L178.3,157.9 L178.8,157.4 L179.3,156.9 L179.8,156.4 L180.3,156.0 L180.8,155.5 L181.2,155.0 L181.6,154.5 L182.0,154.0 L182.3,153.5 L182.6,153.0 L182.8,152.5 L183.0,151.9 L183.1,151.4 L183.3,150.9 L183.4,150.3 L183.6,149.7 L183.7,149.2 L183.9,148.6 L184.0,148.0 L184.1,147.3 L184.2,146.7 L184.2,146.0 L184.3,145.4 L184.2,144.7 L184.2,144.0 L184.1,143.3 L183.9,142.6 L183.7,141.9 L183.4,141.2 L183.1,140.5 L182.8,139.9 L182.3,139.2 L181.8,138.6 L181.2,138.0 L180.6,137.4 L179.9,136.9 L179.2,136.4 L178.6,135.9 L178.0,135.4 L177.5,134.9 L177.1,134.5 L177.0,134.0 L177.0,133.5 L177.4,133.0 L178.0,132.5 L178.7,131.9 L179.5,131.3 L180.3,130.6 L181.0,130.0 L181.5,129.3 L181.8,128.7 L181.9,128.1 L181.8,127.6 L181.6,127.1 L181.4,126.7 L181.1,126.3 L180.8,125.9 L180.4,125.6 L180.0,125.4 L179.7,125.1 L179.3,124.8 L178.9,124.6 L178.5,124.3 L178.1,124.1 L177.8,123.8 L177.4,123.5 L177.0,123.2 L176.7,122.9 L176.3,122.6 L176.0,122.3 L175.6,122.0 L175.3,121.7 L174.9,121.5 L174.6,121.2 L174.2,121.0 L173.9,120.8 L173.5,120.6 L173.2,120.4 L172.8,120.3 L172.5,120.1 L172.1,120.0 L171.7,119.9 L171.3,119.8 L170.9,119.7 L170.5,119.6 L170.0,119.4 L169.6,119.3 L169.2,119.2 L168.7,119.0 L168.2,118.8 L167.7,118.6 L167.3,118.4 L166.8,118.2 L166.3,118.0 L165.8,117.8 L165.3,117.6 L164.8,117.4 L164.4,117.2 L163.9,117.0 L163.4,116.9 L163.0,116.8 L162.6,116.7 L162.1,116.7 L161.7,116.7 L161.3,116.7 L160.9,116.8 L160.5,116.9 L160.1,117.0 L159.7,117.1 L159.2,117.3 L158.8,117.6 L158.3,117.8 L157.8,118.1 L157.3,118.3 L156.7,118.6 L156.2,119.0 L155.6,119.3 L155.0,119.6 L154.4,119.9 L153.9,120.2 L153.3,120.6 L152.8,120.9 L152.3,121.2 L151.9,121.5 L151.6,121.8 L151.2,122.1 L150.9,122.3 L150.6,122.6 L150.3,122.9 L150.1,123.1 L149.8,123.4 L149.5,123.6 L149.2,123.9 L148.9,124.2 L148.6,124.4 L148.3,124.7 L147.9,125.0 L147.6,125.3 L147.3,125.6 L147.0,125.9 L146.8,126.2 L146.5,126.5 L146.3,126.9 L146.1,127.2 L145.9,127.6 L145.7,128.0 L145.5,128.4 L145.4,128.8 L145.2,129.2 L145.1,129.6 L144.9,130.0 L144.7,130.4 L144.6,130.9 L144.4,131.3 L144.2,131.8 L144.0,132.2 L143.9,132.7 L143.7,133.2 L143.6,133.7 L143.5,134.1 L143.4,134.6 L143.3,135.1 L143.3,135.5 L143.2,135.9 L143.1,136.4 L143.1,136.8 L143.0,137.3 L143.0,137.8 L142.9,138.2 L142.9,138.7 L142.9,139.2 L142.9,139.7 L143.0,140.1 L143.0,140.6 L143.1,141.1" fill="none" stroke="#dc0a0a" stroke-width="1.7" stroke-linejoin="round"/>
<rect x="38.5" y="30.0" width="208.5" height="208.5" fill="none" stroke="#000" stroke-width="2"/>
<line x1="38.5" y1="238.5" x2="38.5" y2="244.0" stroke="#000" stroke-width="2"/>
<line x1="38.5" y1="238.5" x2="33.0" y2="238.5" stroke="#000" stroke-width="2"/>
<text x="38.7" y="255.7" font-family="Liberation Sans, Arial, sans-serif" stroke="#000" stroke-width="0.3" font-weight="bold" font-size="12.5" text-anchor="middle">-3</text>
<text x="30.3" y="243.0" font-family="Liberation Sans, Arial, sans-serif" stroke="#000" stroke-width="0.3" font-weight="bold" font-size="12.5" text-anchor="end">-3</text>
<line x1="73.25" y1="238.5" x2="73.25" y2="244.0" stroke="#000" stroke-width="2"/>
<line x1="38.5" y1="203.75" x2="33.0" y2="203.75" stroke="#000" stroke-width="2"/>
<text x="73.45" y="255.7" font-family="Liberation Sans, Arial, sans-serif" stroke="#000" stroke-width="0.3" font-weight="bold" font-size="12.5" text-anchor="middle">-2</text>
<text x="30.3" y="208.25" font-family="Liberation Sans, Arial, sans-serif" stroke="#000" stroke-width="0.3" font-weight="bold" font-size="12.5" text-anchor="end">-2</text>
<line x1="108.0" y1="238.5" x2="108.0" y2="244.0" stroke="#000" stroke-width="2"/>
<line x1="38.5" y1="169.0" x2="33.0" y2="169.0" stroke="#000" stroke-width="2"/>
<text x="108.2" y="255.7" font-family="Liberation Sans, Arial, sans-serif" stroke="#000" stroke-width="0.3" font-weight="bold" font-size="12.5" text-anchor="middle">-1</text>
<text x="30.3" y="173.5" font-family="Liberation Sans, Arial, sans-serif" stroke="#000" stroke-width="0.3" font-weight="bold" font-size="12.5" text-anchor="end">-1</text>
<line x1="142.75" y1="238.5" x2="142.75" y2="244.0" stroke="#000" stroke-width="2"/>
<line x1="38.5" y1="134.25" x2="33.0" y2="134.25" stroke="#000" stroke-width="2"/>
<text x="142.95" y="255.7" font-family="Liberation Sans, Arial, sans-serif" stroke="#000" stroke-width="0.3" font-weight="bold" font-size="12.5" text-anchor="middle">0</text>
<text x="30.3" y="138.75" font-family="Liberation Sans, Arial, sans-serif" stroke="#000" stroke-width="0.3" font-weight="bold" font-size="12.5" text-anchor="end">0</text>
<line x1="177.5" y1="238.5" x2="177.5" y2="244.0" stroke="#000" stroke-width="2"/>
<line x1="38.5" y1="99.5" x2="33.0" y2="99.5" stroke="#000" stroke-width="2"/>
<text x="177.7" y="255.7" font-family="Liberation Sans, Arial, sans-serif" stroke="#000" stroke-width="0.3" font-weight="bold" font-size="12.5" text-anchor="middle">1</text>
<text x="30.3" y="104.0" font-family="Liberation Sans, Arial, sans-serif" stroke="#000" stroke-width="0.3" font-weight="bold" font-size="12.5" text-anchor="end">1</text>
<line x1="212.25" y1="238.5" x2="212.25" y2="244.0" stroke="#000" stroke-width="2"/>
<line x1="38.5" y1="64.75" x2="33.0" y2="64.75" stroke="#000" stroke-width="2"/>
<text x="212.45" y="255.7" font-family="Liberation Sans, Arial, sans-serif" stroke="#000" stroke-width="0.3" font-weight="bold" font-size="12.5" text-anchor="middle">2</text>
<text x="30.3" y="69.25" font-family="Liberation Sans, Arial, sans-serif" stroke="#000" stroke-width="0.3" font-weight="bold" font-size="12.5" text-anchor="end">2</text>
<line x1="247.0" y1="238.5" x2="247.0" y2="244.0" stroke="#000" stroke-width="2"/>
<line x1="38.5" y1="30.0" x2="33.0" y2="30.0" stroke="#000" stroke-width="2"/>
<text x="247.2" y="255.7" font-family="Liberation Sans, Arial, sans-serif" stroke="#000" stroke-width="0.3" font-weight="bold" font-size="12.5" text-anchor="middle">3</text>
<text x="30.3" y="34.5" font-family="Liberation Sans, Arial, sans-serif" stroke="#000" stroke-width="0.3" font-weight="bold" font-size="12.5" text-anchor="end">3</text>
<text x="88.5" y="276.3" font-family="Liberation Sans, Arial, sans-serif" stroke="#000" stroke-width="0.3" font-weight="bold" font-size="14" textLength="107" lengthAdjust="spacingAndGlyphs">X Position (mm)</text>
<text transform="translate(11,187.7) rotate(-90)" font-family="Liberation Sans, Arial, sans-serif" stroke="#000" stroke-width="0.3" font-weight="bold" font-size="14" textLength="108.3" lengthAdjust="spacingAndGlyphs">Y Position (mm)</text>
<rect x="308.0" y="30.0" width="208.39999999999998" height="22.935000000000002" fill="#04b0ef"/>
<rect x="308.0" y="215.565" width="208.39999999999998" height="22.935000000000002" fill="#04b0ef"/>
<line x1="308.0" y1="52.935" x2="516.4" y2="52.935" stroke="#0404c8" stroke-width="2.3"/>
<line x1="308.0" y1="215.565" x2="516.4" y2="215.565" stroke="#0404c8" stroke-width="2.3"/>
<path d="M308.6,141.0 L309.0,136.1 L309.3,131.4 L309.7,126.8 L310.0,122.5 L310.4,118.4 L310.7,114.7 L311.1,111.4 L311.4,108.6 L311.8,106.2 L312.1,105.0 L312.5,105.2 L312.8,105.5 L313.2,105.9 L313.5,106.3 L313.9,106.7 L314.2,107.2 L314.6,107.8 L314.9,108.3 L315.3,109.8 L315.6,112.1 L316.0,114.8 L316.3,117.8 L316.7,121.1 L317.0,124.5 L317.4,127.8 L317.7,131.1 L318.1,134.1 L318.4,136.8 L318.8,139.1 L319.1,140.8 L319.5,140.1 L319.8,138.1 L320.2,135.7 L320.5,132.8 L320.9,129.7 L321.2,126.3 L321.6,122.8 L321.9,119.3 L322.3,115.8 L322.6,112.5 L323.0,109.4 L323.3,106.7 L323.7,104.3 L324.0,102.8 L324.4,102.2 L324.7,101.7 L325.1,101.1 L325.4,100.7 L325.8,100.2 L326.1,99.9 L326.5,99.6 L326.8,100.5 L327.2,101.9 L327.5,103.5 L327.9,105.4 L328.2,107.5 L328.6,109.8 L328.9,112.2 L329.3,114.7 L329.6,117.2 L330.0,119.8 L330.3,122.3 L330.7,124.8 L331.0,127.2 L331.4,129.4 L331.7,131.5 L332.1,133.4 L332.4,135.0 L332.8,136.3 L333.1,136.6 L333.5,134.9 L333.8,132.6 L334.2,129.9 L334.5,126.9 L334.9,123.7 L335.2,120.3 L335.6,116.8 L335.9,113.3 L336.3,110.0 L336.6,106.8 L337.0,103.9 L337.3,101.3 L337.7,99.4 L338.0,98.4 L338.4,97.4 L338.7,96.5 L339.1,95.7 L339.4,94.9 L339.8,94.3 L340.1,93.7 L340.5,93.6 L340.8,95.0 L341.2,96.9 L341.5,99.2 L341.9,101.7 L342.2,104.6 L342.6,107.6 L342.9,110.7 L343.3,113.9 L343.6,117.2 L344.0,120.3 L344.3,123.4 L344.7,126.3 L345.0,128.9 L345.4,131.3 L345.7,133.3 L346.1,134.9 L346.4,134.6 L346.8,132.7 L347.1,130.4 L347.5,127.8 L347.8,124.8 L348.2,121.6 L348.5,118.2 L348.9,114.8 L349.2,111.3 L349.6,108.0 L349.9,104.8 L350.3,101.8 L350.6,99.1 L351.0,96.8 L351.3,95.5 L351.7,94.3 L352.0,93.2 L352.4,92.1 L352.7,91.2 L353.1,90.4 L353.4,89.8 L353.8,90.7 L354.1,92.5 L354.5,94.7 L354.8,97.2 L355.2,100.1 L355.5,103.2 L355.9,106.4 L356.2,109.8 L356.6,113.2 L356.9,116.7 L357.3,120.0 L357.6,123.2 L358.0,126.2 L358.3,129.0 L358.7,131.5 L359.0,133.6 L359.4,135.2 L359.7,135.2 L360.1,133.8 L360.4,132.1 L360.8,130.1 L361.1,127.9 L361.5,125.5 L361.8,123.0 L362.2,120.3 L362.5,117.5 L362.9,114.7 L363.2,111.8 L363.6,109.0 L363.9,106.2 L364.3,103.6 L364.6,101.0 L365.0,98.6 L365.3,96.5 L365.7,94.5 L366.0,92.9 L366.4,91.6 L366.7,91.9 L367.1,93.6 L367.4,95.7 L367.8,98.2 L368.1,101.0 L368.5,104.0 L368.8,107.2 L369.2,110.6 L369.5,114.0 L369.9,117.4 L370.2,120.8 L370.6,124.1 L370.9,127.2 L371.3,130.1 L371.6,132.8 L372.0,135.1 L372.3,137.1 L372.7,138.6 L373.0,137.7 L373.4,136.2 L373.7,134.2 L374.1,132.0 L374.4,129.6 L374.8,126.9 L375.1,124.1 L375.5,121.2 L375.8,118.2 L376.2,115.2 L376.5,112.2 L376.9,109.3 L377.2,106.5 L377.6,103.9 L377.9,101.4 L378.3,99.3 L378.6,97.4 L379.0,95.9 L379.3,95.3 L379.7,96.8 L380.0,98.7 L380.4,101.0 L380.7,103.5 L381.1,106.2 L381.4,109.2 L381.8,112.3 L382.1,115.5 L382.5,118.8 L382.8,122.1 L383.2,125.3 L383.5,128.4 L383.9,131.4 L384.2,134.3 L384.6,136.9 L384.9,139.2 L385.3,141.2 L385.6,142.8 L386.0,143.0 L386.3,141.7 L386.7,140.0 L387.0,138.0 L387.4,135.8 L387.7,133.3 L388.1,130.7 L388.4,128.0 L388.8,125.1 L389.1,122.3 L389.5,119.4 L389.8,116.7 L390.2,113.9 L390.5,111.4 L390.9,109.0 L391.2,106.8 L391.6,104.9 L391.9,103.3 L392.3,102.0 L392.6,103.1 L393.0,104.8 L393.3,107.0 L393.7,109.4 L394.0,112.1 L394.4,115.1 L394.7,118.2 L395.1,121.4 L395.4,124.7 L395.8,128.1 L396.1,131.4 L396.5,134.6 L396.8,137.7 L397.2,140.6 L397.5,143.3 L397.9,145.7 L398.2,147.7 L398.6,149.4 L398.9,150.1 L399.3,148.8 L399.6,147.2 L400.0,145.2 L400.3,143.0 L400.7,140.6 L401.0,138.1 L401.4,135.4 L401.7,132.6 L402.1,129.8 L402.4,127.0 L402.8,124.2 L403.1,121.6 L403.5,119.0 L403.8,116.7 L404.2,114.6 L404.5,112.7 L404.9,111.2 L405.2,110.0 L405.6,111.4 L405.9,113.1 L406.3,115.3 L406.6,117.7 L407.0,120.4 L407.3,123.3 L407.7,126.4 L408.0,129.6 L408.4,132.8 L408.7,136.1 L409.1,139.3 L409.4,142.4 L409.8,145.4 L410.1,148.1 L410.5,150.6 L410.8,152.9 L411.2,154.8 L411.5,156.3 L411.9,155.9 L412.2,154.7 L412.6,153.2 L412.9,151.5 L413.3,149.6 L413.6,147.5 L414.0,145.3 L414.3,142.9 L414.7,140.6 L415.0,138.1 L415.4,135.7 L415.7,133.4 L416.1,131.0 L416.4,128.8 L416.8,126.7 L417.1,124.8 L417.5,123.1 L417.8,121.6 L418.2,120.4 L418.5,120.0 L418.9,121.4 L419.2,123.1 L419.6,125.1 L419.9,127.3 L420.3,129.8 L420.6,132.5 L421.0,135.3 L421.3,138.2 L421.7,141.2 L422.0,144.1 L422.4,147.0 L422.7,149.8 L423.1,152.5 L423.4,155.0 L423.8,157.2 L424.1,159.2 L424.5,160.9 L424.8,162.3 L425.2,162.4 L425.5,162.1 L425.9,161.7 L426.2,161.2 L426.6,160.7 L426.9,159.3 L427.3,157.5 L427.6,155.3 L428.0,152.9 L428.3,150.4 L428.7,147.7 L429.0,144.9 L429.4,142.1 L429.7,139.4 L430.1,136.8 L430.4,134.3 L430.8,132.1 L431.1,130.1 L431.5,128.5 L431.8,127.3 L432.2,128.7 L432.5,130.6 L432.9,132.9 L433.2,135.5 L433.6,138.4 L433.9,141.5 L434.3,144.6 L434.6,147.9 L435.0,151.1 L435.3,154.2 L435.7,157.2 L436.0,160.0 L436.4,162.5 L436.7,164.6 L437.1,165.9 L437.4,166.7 L437.8,167.3 L438.1,168.0 L438.5,168.5 L438.8,168.8 L439.2,167.8 L439.5,166.4 L439.9,164.8 L440.2,162.9 L440.6,160.9 L440.9,158.7 L441.3,156.3 L441.6,153.9 L442.0,151.4 L442.3,148.9 L442.7,146.4 L443.0,144.0 L443.4,141.7 L443.7,139.4 L444.1,137.3 L444.4,135.5 L444.8,133.8 L445.1,132.4 L445.5,131.3 L445.8,132.5 L446.2,134.4 L446.5,136.7 L446.9,139.4 L447.2,142.4 L447.6,145.6 L447.9,148.9 L448.3,152.2 L448.6,155.5 L449.0,158.8 L449.3,161.8 L449.7,164.7 L450.0,167.2 L450.4,169.2 L450.7,170.3 L451.1,171.4 L451.4,172.5 L451.8,173.5 L452.1,174.3 L452.5,174.9 L452.8,174.4 L453.2,172.9 L453.5,171.1 L453.9,168.9 L454.2,166.5 L454.6,163.8 L454.9,161.0 L455.3,158.1 L455.6,155.2 L456.0,152.2 L456.3,149.2 L456.7,146.3 L457.0,143.6 L457.4,141.0 L457.7,138.7 L458.1,136.7 L458.4,135.0 L458.8,133.7 L459.1,135.0 L459.5,137.3 L459.8,140.2 L460.2,143.5 L460.5,147.1 L460.9,150.9 L461.2,154.7 L461.6,158.5 L461.9,162.2 L462.3,165.5 L462.6,168.5 L463.0,170.8 L463.3,172.0 L463.7,173.3 L464.0,174.5 L464.4,175.6 L464.7,176.5 L465.1,177.3 L465.4,178.0 L465.8,177.2 L466.1,175.6 L466.5,173.7 L466.8,171.5 L467.2,169.0 L467.5,166.3 L467.9,163.4 L468.2,160.4 L468.6,157.4 L468.9,154.3 L469.3,151.2 L469.6,148.2 L470.0,145.3 L470.3,142.6 L470.7,140.1 L471.0,137.8 L471.4,135.8 L471.7,134.2 L472.1,133.3 L472.4,135.2 L472.8,137.7 L473.1,140.7 L473.5,144.1 L473.8,147.8 L474.2,151.7 L474.5,155.5 L474.9,159.4 L475.2,163.0 L475.6,166.4 L475.9,169.4 L476.3,171.7 L476.6,172.9 L477.0,174.2 L477.3,175.3 L477.7,176.3 L478.0,177.2 L478.4,177.9 L478.7,177.4 L479.1,175.9 L479.4,174.0 L479.8,171.8 L480.1,169.4 L480.5,166.7 L480.8,163.9 L481.2,160.9 L481.5,157.9 L481.9,154.7 L482.2,151.6 L482.6,148.5 L482.9,145.5 L483.3,142.6 L483.6,139.8 L484.0,137.2 L484.3,134.9 L484.7,132.8 L485.0,131.1 L485.4,129.8 L485.7,131.2 L486.1,133.8 L486.4,136.9 L486.8,140.5 L487.1,144.5 L487.5,148.6 L487.8,152.7 L488.2,156.8 L488.5,160.6 L488.9,164.1 L489.2,167.1 L489.6,169.0 L489.9,170.1 L490.3,171.2 L490.6,172.2 L491.0,173.1 L491.3,173.8 L491.7,174.0 L492.0,172.7 L492.4,170.9 L492.7,168.8 L493.1,166.5 L493.4,163.9 L493.8,161.1 L494.1,158.1 L494.5,155.0 L494.8,151.9 L495.2,148.7 L495.5,145.5 L495.9,142.4 L496.2,139.4 L496.6,136.5 L496.9,133.8 L497.3,131.4 L497.6,129.1 L498.0,127.3 L498.3,125.7 L498.7,125.5 L499.0,127.2 L499.4,129.2 L499.7,131.7 L500.1,134.4 L500.4,137.3 L500.8,140.5 L501.1,143.8 L501.5,147.1 L501.8,150.4 L502.2,153.6 L502.5,156.7 L502.9,159.6 L503.2,162.3 L503.6,164.6 L503.9,166.5 L504.3,168.0 L504.6,167.1 L505.0,165.5 L505.3,163.6 L505.7,161.4 L506.0,159.0 L506.4,156.4 L506.7,153.5 L507.1,150.6 L507.4,147.6 L507.8,144.5 L508.1,141.4 L508.5,138.3 L508.8,135.3 L509.2,132.3 L509.5,129.6 L509.9,126.9 L510.2,124.5 L510.6,122.4 L510.9,120.5 L511.3,119.0 L511.6,118.4 L512.0,119.6 L512.3,120.9 L512.7,122.4 L513.0,123.9 L513.4,125.6 L513.7,127.5 L514.1,129.5 L514.4,131.6 L514.8,133.8 L515.1,136.2 L515.5,138.7 L515.8,141.3 L516.2,144.1" fill="none" stroke="#dc0a0a" stroke-width="2.3" stroke-linejoin="round"/>
<rect x="308.0" y="30.0" width="208.39999999999998" height="208.5" fill="none" stroke="#000" stroke-width="2"/>
<line x1="308.0" y1="238.5" x2="302.5" y2="238.5" stroke="#000" stroke-width="2"/>
<text x="299.5" y="243.0" font-family="Liberation Sans, Arial, sans-serif" stroke="#000" stroke-width="0.3" font-weight="bold" font-size="12.5" text-anchor="end">-3</text>
<line x1="308.0" y1="203.75" x2="302.5" y2="203.75" stroke="#000" stroke-width="2"/>
<text x="299.5" y="208.25" font-family="Liberation Sans, Arial, sans-serif" stroke="#000" stroke-width="0.3" font-weight="bold" font-size="12.5" text-anchor="end">-2</text>
<line x1="308.0" y1="169.0" x2="302.5" y2="169.0" stroke="#000" stroke-width="2"/>
<text x="299.5" y="173.5" font-family="Liberation Sans, Arial, sans-serif" stroke="#000" stroke-width="0.3" font-weight="bold" font-size="12.5" text-anchor="end">-1</text>
<line x1="308.0" y1="134.25" x2="302.5" y2="134.25" stroke="#000" stroke-width="2"/>
<text x="299.5" y="138.75" font-family="Liberation Sans, Arial, sans-serif" stroke="#000" stroke-width="0.3" font-weight="bold" font-size="12.5" text-anchor="end">0</text>
<line x1="308.0" y1="99.5" x2="302.5" y2="99.5" stroke="#000" stroke-width="2"/>
<text x="299.5" y="104.0" font-family="Liberation Sans, Arial, sans-serif" stroke="#000" stroke-width="0.3" font-weight="bold" font-size="12.5" text-anchor="end">1</text>
<line x1="308.0" y1="64.75" x2="302.5" y2="64.75" stroke="#000" stroke-width="2"/>
<text x="299.5" y="69.25" font-family="Liberation Sans, Arial, sans-serif" stroke="#000" stroke-width="0.3" font-weight="bold" font-size="12.5" text-anchor="end">2</text>
<line x1="308.0" y1="30.0" x2="302.5" y2="30.0" stroke="#000" stroke-width="2"/>
<text x="299.5" y="34.5" font-family="Liberation Sans, Arial, sans-serif" stroke="#000" stroke-width="0.3" font-weight="bold" font-size="12.5" text-anchor="end">3</text>
<line x1="308.0" y1="238.5" x2="308.0" y2="244.0" stroke="#000" stroke-width="2"/>
<text x="308.0" y="255.9" font-family="Liberation Sans, Arial, sans-serif" stroke="#000" stroke-width="0.3" font-weight="bold" font-size="12.5" text-anchor="middle">200</text>
<line x1="360.1" y1="238.5" x2="360.1" y2="244.0" stroke="#000" stroke-width="2"/>
<text x="360.1" y="255.9" font-family="Liberation Sans, Arial, sans-serif" stroke="#000" stroke-width="0.3" font-weight="bold" font-size="12.5" text-anchor="middle">150</text>
<line x1="412.2" y1="238.5" x2="412.2" y2="244.0" stroke="#000" stroke-width="2"/>
<text x="412.2" y="255.9" font-family="Liberation Sans, Arial, sans-serif" stroke="#000" stroke-width="0.3" font-weight="bold" font-size="12.5" text-anchor="middle">100</text>
<line x1="464.29999999999995" y1="238.5" x2="464.29999999999995" y2="244.0" stroke="#000" stroke-width="2"/>
<text x="464.29999999999995" y="255.9" font-family="Liberation Sans, Arial, sans-serif" stroke="#000" stroke-width="0.3" font-weight="bold" font-size="12.5" text-anchor="middle">50</text>
<line x1="516.4" y1="238.5" x2="516.4" y2="244.0" stroke="#000" stroke-width="2"/>
<text x="516.4" y="255.9" font-family="Liberation Sans, Arial, sans-serif" stroke="#000" stroke-width="0.3" font-weight="bold" font-size="12.5" text-anchor="middle">0</text>
<text x="360.5" y="275.8" font-family="Liberation Sans, Arial, sans-serif" stroke="#000" stroke-width="0.3" font-weight="bold" font-size="12.7" textLength="96" lengthAdjust="spacingAndGlyphs">Z Position (mm)</text>
<text transform="translate(281,190.9) rotate(-90)" font-family="Liberation Sans, Arial, sans-serif" stroke="#000" stroke-width="0.3" font-weight="bold" font-size="14" textLength="107.6" lengthAdjust="spacingAndGlyphs">Y Position (mm)</text>
<text y="12.5" font-family="Liberation Sans, Arial, sans-serif" font-weight="bold" font-size="15"><tspan x="81.3" textLength="25.3" lengthAdjust="spacingAndGlyphs">Ion</tspan> <tspan x="111.8" textLength="56" lengthAdjust="spacingAndGlyphs">Motion</tspan> <tspan x="173.3" textLength="15.3" lengthAdjust="spacingAndGlyphs">in</tspan> <tspan x="193.8" textLength="159.5" lengthAdjust="spacingAndGlyphs">Magnetoquadrupole</tspan> <tspan x="359.3" textLength="4.5" lengthAdjust="spacingAndGlyphs">,</tspan> <tspan x="366.8" textLength="53" lengthAdjust="spacingAndGlyphs">B=14.5</tspan> <tspan x="424.2" textLength="10" lengthAdjust="spacingAndGlyphs">T</tspan></text>
<text x="0.2" y="15.9" font-family="Liberation Sans, Arial, sans-serif" stroke="#000" stroke-width="0.3" font-weight="bold" font-size="19.3" textLength="23.5" lengthAdjust="spacingAndGlyphs">(a)</text>
<text x="0.2" y="295.5" font-family="Liberation Sans, Arial, sans-serif" stroke="#000" stroke-width="0.3" font-weight="bold" font-size="19.7" textLength="25.2" lengthAdjust="spacingAndGlyphs">(b)</text>
<path d="M33.00,539.30 L35.50,539.30 L36.40,536.30 L37.75,318.80 L38.05,318.80 L39.40,536.30 L40.30,539.30 L103.00,539.30 L103.90,536.30 L105.25,312.50 L105.55,312.50 L106.90,536.30 L107.80,539.30 L253.90,539.30 L254.80,536.30 L255.85,515.50 L256.15,515.50 L257.20,536.30 L258.10,539.30 L321.25,539.30 L322.15,537.22 L323.10,531.00 L323.40,531.00 L324.35,537.22 L325.25,539.30 L329.90,539.30 L330.80,536.35 L331.85,527.50 L332.15,527.50 L333.20,536.35 L334.10,539.30 L386.50,539.30" fill="none" stroke="#1010e0" stroke-width="1.8" stroke-linejoin="round"/>
<rect x="22.0" y="303.2" width="364.5" height="247.40000000000003" fill="none" stroke="#000" stroke-width="2.6"/>
<line x1="33.75" y1="550.6" x2="33.75" y2="557.1" stroke="#000" stroke-width="2.6"/>
<text x="33.75" y="569.9" font-family="Liberation Sans, Arial, sans-serif" stroke="#000" stroke-width="0.3" font-weight="bold" font-size="12.7" text-anchor="middle">0</text>
<line x1="92.54166666666666" y1="550.6" x2="92.54166666666666" y2="557.1" stroke="#000" stroke-width="2.6"/>
<text x="92.54166666666666" y="569.9" font-family="Liberation Sans, Arial, sans-serif" stroke="#000" stroke-width="0.3" font-weight="bold" font-size="12.7" text-anchor="middle">100</text>
<line x1="151.33333333333331" y1="550.6" x2="151.33333333333331" y2="557.1" stroke="#000" stroke-width="2.6"/>
<text x="151.33333333333331" y="569.9" font-family="Liberation Sans, Arial, sans-serif" stroke="#000" stroke-width="0.3" font-weight="bold" font-size="12.7" text-anchor="middle">200</text>
<line x1="210.125" y1="550.6" x2="210.125" y2="557.1" stroke="#000" stroke-width="2.6"/>
<text x="210.125" y="569.9" font-family="Liberation Sans, Arial, sans-serif" stroke="#000" stroke-width="0.3" font-weight="bold" font-size="12.7" text-anchor="middle">300</text>
<line x1="268.91666666666663" y1="550.6" x2="268.91666666666663" y2="557.1" stroke="#000" stroke-width="2.6"/>
<text x="268.91666666666663" y="569.9" font-family="Liberation Sans, Arial, sans-serif" stroke="#000" stroke-width="0.3" font-weight="bold" font-size="12.7" text-anchor="middle">400</text>
<line x1="327.7083333333333" y1="550.6" x2="327.7083333333333" y2="557.1" stroke="#000" stroke-width="2.6"/>
<text x="327.7083333333333" y="569.9" font-family="Liberation Sans, Arial, sans-serif" stroke="#000" stroke-width="0.3" font-weight="bold" font-size="12.7" text-anchor="middle">500</text>
<line x1="386.5" y1="550.6" x2="386.5" y2="557.1" stroke="#000" stroke-width="2.6"/>
<text x="386.5" y="569.9" font-family="Liberation Sans, Arial, sans-serif" stroke="#000" stroke-width="0.3" font-weight="bold" font-size="12.7" text-anchor="middle">600</text>
<text x="156.6" y="589" font-family="Liberation Sans, Arial, sans-serif" stroke="#000" stroke-width="0.3" font-weight="bold" font-size="14.7" textLength="115.6" lengthAdjust="spacingAndGlyphs">Frequency (kHz)</text>
<text transform="translate(11,463.1) rotate(-90)" font-family="Liberation Sans, Arial, sans-serif" stroke="#000" stroke-width="0.3" font-weight="bold" font-size="14.6" textLength="74" lengthAdjust="spacingAndGlyphs">Magnitude</text>
<text x="49.9" y="331.2" font-family="Liberation Serif, Times New Roman, serif" font-weight="bold" font-size="18.6">ω</text>
<text x="63.9" y="336.2" font-family="Liberation Serif, Times New Roman, serif" font-weight="bold" font-size="13">-</text>
<text x="120.7" y="331.2" font-family="Liberation Serif, Times New Roman, serif" font-weight="bold" font-size="18.6">ω</text>
<text x="134.6" y="338.3" font-family="Liberation Serif, Times New Roman, serif" font-size="18">+</text>
<text y="499.6" font-family="Liberation Serif, Times New Roman, serif" font-size="17.2"><tspan x="213.6" textLength="14.6" lengthAdjust="spacingAndGlyphs">Ω</tspan><tspan x="227.4">-</tspan><tspan x="232.9">ω</tspan></text>
<text x="244.2" y="505.8" font-family="Liberation Serif, Times New Roman, serif" font-size="14.7">+</text>
<text y="515.8" font-family="Liberation Serif, Times New Roman, serif" font-size="17.4"><tspan x="283.9" textLength="14.8" lengthAdjust="spacingAndGlyphs">Ω</tspan><tspan x="298.8">-</tspan><tspan x="304.1">ω</tspan></text>
<text x="314.9" y="520.2" font-family="Liberation Serif, Times New Roman, serif" font-weight="bold" font-size="11">-</text>
<text x="335.7" y="515.8" font-family="Liberation Serif, Times New Roman, serif" font-size="17.4" textLength="14.8" lengthAdjust="spacingAndGlyphs">Ω</text>
<text x="350.0" y="518.5" font-family="Liberation Serif, Times New Roman, serif" font-size="21">+</text>
<text x="361.7" y="515.8" font-family="Liberation Serif, Times New Roman, serif" font-size="17.4">ω</text>
<text x="373.1" y="520.2" font-family="Liberation Serif, Times New Roman, serif" font-weight="bold" font-size="11">-</text>
</svg>
</body></html>
